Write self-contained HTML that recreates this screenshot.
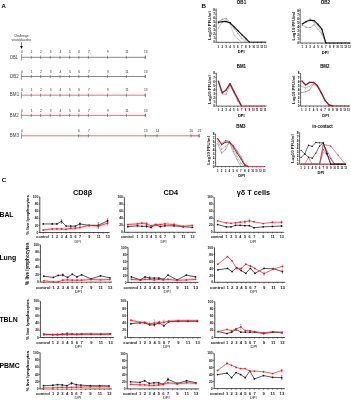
<!DOCTYPE html>
<html><head><meta charset="utf-8"><title>Figure</title>
<style>
html,body{margin:0;padding:0;background:#fff;width:351px;height:400px;overflow:hidden}
svg{display:block}
svg text{font-family:"Liberation Sans", Arial, Helvetica, sans-serif}
</style></head>
<body>
<svg width="351" height="400" viewBox="0 0 351 400">
<rect width="351" height="400" fill="#fff"/>
<text x="1.60" y="7.90" font-size="6.0" text-anchor="start" font-weight="bold" fill="#000" >A</text>
<text x="21.20" y="37.00" font-size="3.3" text-anchor="middle" font-weight="normal" fill="#333" >Challenge</text>
<text x="21.30" y="41.00" font-size="3.3" text-anchor="middle" font-weight="normal" fill="#333" >virus/placebo</text>
<line x1="21.50" y1="42.30" x2="21.50" y2="46.50" stroke="#000" stroke-width="0.5" />
<polygon points="20.2,46 22.8,46 21.5,49" fill="#000"/>
<text x="9.80" y="58.80" font-size="4.7" text-anchor="start" font-weight="normal" fill="#3a3a3a" textLength="8.0" lengthAdjust="spacingAndGlyphs">OB1</text>
<line x1="21.40" y1="57.30" x2="145.30" y2="57.30" stroke="#6a6a6a" stroke-width="0.8" />
<line x1="21.40" y1="54.10" x2="21.40" y2="60.50" stroke="#555" stroke-width="0.6" />
<text x="21.80" y="53.40" font-size="3.2" text-anchor="middle" font-weight="normal" fill="#222" >0</text>
<line x1="31.30" y1="55.70" x2="31.30" y2="58.90" stroke="#555" stroke-width="0.6" />
<text x="31.70" y="53.40" font-size="3.2" text-anchor="middle" font-weight="normal" fill="#222" >1</text>
<line x1="40.60" y1="55.70" x2="40.60" y2="58.90" stroke="#555" stroke-width="0.6" />
<text x="41.00" y="53.40" font-size="3.2" text-anchor="middle" font-weight="normal" fill="#222" >2</text>
<line x1="50.30" y1="55.70" x2="50.30" y2="58.90" stroke="#555" stroke-width="0.6" />
<text x="50.70" y="53.40" font-size="3.2" text-anchor="middle" font-weight="normal" fill="#222" >3</text>
<line x1="60.00" y1="55.70" x2="60.00" y2="58.90" stroke="#555" stroke-width="0.6" />
<text x="60.40" y="53.40" font-size="3.2" text-anchor="middle" font-weight="normal" fill="#222" >4</text>
<line x1="69.60" y1="55.70" x2="69.60" y2="58.90" stroke="#555" stroke-width="0.6" />
<text x="70.00" y="53.40" font-size="3.2" text-anchor="middle" font-weight="normal" fill="#222" >5</text>
<line x1="78.80" y1="55.70" x2="78.80" y2="58.90" stroke="#555" stroke-width="0.6" />
<text x="79.20" y="53.40" font-size="3.2" text-anchor="middle" font-weight="normal" fill="#222" >6</text>
<line x1="88.40" y1="55.70" x2="88.40" y2="58.90" stroke="#555" stroke-width="0.6" />
<text x="88.80" y="53.40" font-size="3.2" text-anchor="middle" font-weight="normal" fill="#222" >7</text>
<line x1="107.50" y1="55.70" x2="107.50" y2="58.90" stroke="#555" stroke-width="0.6" />
<text x="107.90" y="53.40" font-size="3.2" text-anchor="middle" font-weight="normal" fill="#222" >9</text>
<line x1="126.40" y1="55.70" x2="126.40" y2="58.90" stroke="#555" stroke-width="0.6" />
<text x="126.80" y="53.40" font-size="3.2" text-anchor="middle" font-weight="normal" fill="#222" >11</text>
<line x1="145.30" y1="55.70" x2="145.30" y2="58.90" stroke="#555" stroke-width="0.6" />
<text x="145.70" y="53.40" font-size="3.2" text-anchor="middle" font-weight="normal" fill="#222" >13</text>
<line x1="145.30" y1="55.70" x2="145.30" y2="58.90" stroke="#555" stroke-width="0.6" />
<text x="9.80" y="78.10" font-size="4.7" text-anchor="start" font-weight="normal" fill="#3a3a3a" textLength="8.9" lengthAdjust="spacingAndGlyphs">OB2</text>
<line x1="21.40" y1="76.50" x2="145.30" y2="76.50" stroke="#6a6a6a" stroke-width="0.8" />
<line x1="21.40" y1="73.30" x2="21.40" y2="79.70" stroke="#555" stroke-width="0.6" />
<text x="21.80" y="72.60" font-size="3.2" text-anchor="middle" font-weight="normal" fill="#222" >0</text>
<line x1="31.30" y1="74.90" x2="31.30" y2="78.10" stroke="#555" stroke-width="0.6" />
<text x="31.70" y="72.60" font-size="3.2" text-anchor="middle" font-weight="normal" fill="#222" >1</text>
<line x1="40.60" y1="74.90" x2="40.60" y2="78.10" stroke="#555" stroke-width="0.6" />
<text x="41.00" y="72.60" font-size="3.2" text-anchor="middle" font-weight="normal" fill="#222" >2</text>
<line x1="50.30" y1="74.90" x2="50.30" y2="78.10" stroke="#555" stroke-width="0.6" />
<text x="50.70" y="72.60" font-size="3.2" text-anchor="middle" font-weight="normal" fill="#222" >3</text>
<line x1="60.00" y1="74.90" x2="60.00" y2="78.10" stroke="#555" stroke-width="0.6" />
<text x="60.40" y="72.60" font-size="3.2" text-anchor="middle" font-weight="normal" fill="#222" >4</text>
<line x1="69.60" y1="74.90" x2="69.60" y2="78.10" stroke="#555" stroke-width="0.6" />
<text x="70.00" y="72.60" font-size="3.2" text-anchor="middle" font-weight="normal" fill="#222" >5</text>
<line x1="78.80" y1="74.90" x2="78.80" y2="78.10" stroke="#555" stroke-width="0.6" />
<text x="79.20" y="72.60" font-size="3.2" text-anchor="middle" font-weight="normal" fill="#222" >6</text>
<line x1="88.40" y1="74.90" x2="88.40" y2="78.10" stroke="#555" stroke-width="0.6" />
<text x="88.80" y="72.60" font-size="3.2" text-anchor="middle" font-weight="normal" fill="#222" >7</text>
<line x1="107.50" y1="74.90" x2="107.50" y2="78.10" stroke="#555" stroke-width="0.6" />
<text x="107.90" y="72.60" font-size="3.2" text-anchor="middle" font-weight="normal" fill="#222" >9</text>
<line x1="126.40" y1="74.90" x2="126.40" y2="78.10" stroke="#555" stroke-width="0.6" />
<text x="126.80" y="72.60" font-size="3.2" text-anchor="middle" font-weight="normal" fill="#222" >11</text>
<line x1="145.30" y1="74.90" x2="145.30" y2="78.10" stroke="#555" stroke-width="0.6" />
<text x="145.70" y="72.60" font-size="3.2" text-anchor="middle" font-weight="normal" fill="#222" >13</text>
<line x1="145.30" y1="74.90" x2="145.30" y2="78.10" stroke="#555" stroke-width="0.6" />
<text x="9.80" y="96.00" font-size="4.7" text-anchor="start" font-weight="normal" fill="#3a3a3a" textLength="9.4" lengthAdjust="spacingAndGlyphs">BM1</text>
<rect x="21.4" y="91.60" width="123.9" height="3.0" fill="#fef6f7"/>
<line x1="21.40" y1="95.20" x2="145.30" y2="95.20" stroke="#dc5566" stroke-width="0.8" />
<line x1="21.40" y1="92.00" x2="21.40" y2="98.40" stroke="#555" stroke-width="0.6" />
<text x="21.80" y="91.30" font-size="3.2" text-anchor="middle" font-weight="normal" fill="#222" >0</text>
<line x1="31.30" y1="93.60" x2="31.30" y2="96.80" stroke="#555" stroke-width="0.6" />
<text x="31.70" y="91.30" font-size="3.2" text-anchor="middle" font-weight="normal" fill="#222" >1</text>
<line x1="40.60" y1="93.60" x2="40.60" y2="96.80" stroke="#555" stroke-width="0.6" />
<text x="41.00" y="91.30" font-size="3.2" text-anchor="middle" font-weight="normal" fill="#222" >2</text>
<line x1="50.30" y1="93.60" x2="50.30" y2="96.80" stroke="#555" stroke-width="0.6" />
<text x="50.70" y="91.30" font-size="3.2" text-anchor="middle" font-weight="normal" fill="#222" >3</text>
<line x1="60.00" y1="93.60" x2="60.00" y2="96.80" stroke="#555" stroke-width="0.6" />
<text x="60.40" y="91.30" font-size="3.2" text-anchor="middle" font-weight="normal" fill="#222" >4</text>
<line x1="69.60" y1="93.60" x2="69.60" y2="96.80" stroke="#555" stroke-width="0.6" />
<text x="70.00" y="91.30" font-size="3.2" text-anchor="middle" font-weight="normal" fill="#222" >5</text>
<line x1="78.80" y1="93.60" x2="78.80" y2="96.80" stroke="#555" stroke-width="0.6" />
<text x="79.20" y="91.30" font-size="3.2" text-anchor="middle" font-weight="normal" fill="#222" >6</text>
<line x1="88.40" y1="93.60" x2="88.40" y2="96.80" stroke="#555" stroke-width="0.6" />
<text x="88.80" y="91.30" font-size="3.2" text-anchor="middle" font-weight="normal" fill="#222" >7</text>
<line x1="107.50" y1="93.60" x2="107.50" y2="96.80" stroke="#555" stroke-width="0.6" />
<text x="107.90" y="91.30" font-size="3.2" text-anchor="middle" font-weight="normal" fill="#222" >9</text>
<line x1="126.40" y1="93.60" x2="126.40" y2="96.80" stroke="#555" stroke-width="0.6" />
<text x="126.80" y="91.30" font-size="3.2" text-anchor="middle" font-weight="normal" fill="#222" >11</text>
<line x1="145.30" y1="93.60" x2="145.30" y2="96.80" stroke="#555" stroke-width="0.6" />
<text x="145.70" y="91.30" font-size="3.2" text-anchor="middle" font-weight="normal" fill="#222" >13</text>
<line x1="145.30" y1="93.60" x2="145.30" y2="96.80" stroke="#555" stroke-width="0.6" />
<text x="9.80" y="117.40" font-size="4.7" text-anchor="start" font-weight="normal" fill="#3a3a3a" textLength="8.9" lengthAdjust="spacingAndGlyphs">BM2</text>
<rect x="21.4" y="111.80" width="123.9" height="3.0" fill="#fef6f7"/>
<line x1="21.40" y1="115.40" x2="145.30" y2="115.40" stroke="#dc5566" stroke-width="0.8" />
<line x1="21.40" y1="112.20" x2="21.40" y2="118.60" stroke="#555" stroke-width="0.6" />
<text x="21.80" y="111.50" font-size="3.2" text-anchor="middle" font-weight="normal" fill="#222" >0</text>
<line x1="31.30" y1="113.80" x2="31.30" y2="117.00" stroke="#555" stroke-width="0.6" />
<text x="31.70" y="111.50" font-size="3.2" text-anchor="middle" font-weight="normal" fill="#222" >1</text>
<line x1="40.60" y1="113.80" x2="40.60" y2="117.00" stroke="#555" stroke-width="0.6" />
<text x="41.00" y="111.50" font-size="3.2" text-anchor="middle" font-weight="normal" fill="#222" >2</text>
<line x1="50.30" y1="113.80" x2="50.30" y2="117.00" stroke="#555" stroke-width="0.6" />
<text x="50.70" y="111.50" font-size="3.2" text-anchor="middle" font-weight="normal" fill="#222" >3</text>
<line x1="60.00" y1="113.80" x2="60.00" y2="117.00" stroke="#555" stroke-width="0.6" />
<text x="60.40" y="111.50" font-size="3.2" text-anchor="middle" font-weight="normal" fill="#222" >4</text>
<line x1="69.60" y1="113.80" x2="69.60" y2="117.00" stroke="#555" stroke-width="0.6" />
<text x="70.00" y="111.50" font-size="3.2" text-anchor="middle" font-weight="normal" fill="#222" >5</text>
<line x1="78.80" y1="113.80" x2="78.80" y2="117.00" stroke="#555" stroke-width="0.6" />
<text x="79.20" y="111.50" font-size="3.2" text-anchor="middle" font-weight="normal" fill="#222" >6</text>
<line x1="88.40" y1="113.80" x2="88.40" y2="117.00" stroke="#555" stroke-width="0.6" />
<text x="88.80" y="111.50" font-size="3.2" text-anchor="middle" font-weight="normal" fill="#222" >7</text>
<line x1="107.50" y1="113.80" x2="107.50" y2="117.00" stroke="#555" stroke-width="0.6" />
<text x="107.90" y="111.50" font-size="3.2" text-anchor="middle" font-weight="normal" fill="#222" >9</text>
<line x1="126.40" y1="113.80" x2="126.40" y2="117.00" stroke="#555" stroke-width="0.6" />
<text x="126.80" y="111.50" font-size="3.2" text-anchor="middle" font-weight="normal" fill="#222" >11</text>
<line x1="145.30" y1="113.80" x2="145.30" y2="117.00" stroke="#555" stroke-width="0.6" />
<text x="145.70" y="111.50" font-size="3.2" text-anchor="middle" font-weight="normal" fill="#222" >13</text>
<line x1="145.30" y1="113.80" x2="145.30" y2="117.00" stroke="#555" stroke-width="0.6" />
<text x="9.80" y="137.10" font-size="4.7" text-anchor="start" font-weight="normal" fill="#3a3a3a" textLength="9.2" lengthAdjust="spacingAndGlyphs">BM3</text>
<rect x="21.4" y="132.20" width="177.9" height="3.0" fill="#fef6f7"/>
<line x1="21.40" y1="135.80" x2="199.30" y2="135.80" stroke="#dc5566" stroke-width="0.8" />
<line x1="78.60" y1="135.80" x2="88.40" y2="135.80" stroke="#c85060" stroke-width="0.9" stroke-dasharray="0.8 0.8"/>
<line x1="145.30" y1="135.80" x2="157.20" y2="135.80" stroke="#c85060" stroke-width="0.9" stroke-dasharray="0.8 0.8"/>
<line x1="190.90" y1="135.80" x2="199.00" y2="135.80" stroke="#c85060" stroke-width="0.9" stroke-dasharray="0.8 0.8"/>
<line x1="21.60" y1="132.60" x2="21.60" y2="139.00" stroke="#555" stroke-width="0.6" />
<text x="22.00" y="131.90" font-size="3.2" text-anchor="middle" font-weight="normal" fill="#222" >0</text>
<line x1="78.60" y1="134.20" x2="78.60" y2="137.40" stroke="#555" stroke-width="0.6" />
<text x="79.00" y="131.90" font-size="3.2" text-anchor="middle" font-weight="normal" fill="#222" >6</text>
<line x1="88.40" y1="134.20" x2="88.40" y2="137.40" stroke="#555" stroke-width="0.6" />
<text x="88.80" y="131.90" font-size="3.2" text-anchor="middle" font-weight="normal" fill="#222" >7</text>
<line x1="145.30" y1="134.20" x2="145.30" y2="137.40" stroke="#555" stroke-width="0.6" />
<text x="145.70" y="131.90" font-size="3.2" text-anchor="middle" font-weight="normal" fill="#222" >13</text>
<line x1="157.20" y1="134.20" x2="157.20" y2="137.40" stroke="#555" stroke-width="0.6" />
<text x="157.60" y="131.90" font-size="3.2" text-anchor="middle" font-weight="normal" fill="#222" >14</text>
<line x1="190.90" y1="134.20" x2="190.90" y2="137.40" stroke="#555" stroke-width="0.6" />
<text x="191.30" y="131.90" font-size="3.2" text-anchor="middle" font-weight="normal" fill="#222" >20</text>
<line x1="199.00" y1="134.20" x2="199.00" y2="137.40" stroke="#555" stroke-width="0.6" />
<text x="199.40" y="131.90" font-size="3.2" text-anchor="middle" font-weight="normal" fill="#222" >21</text>
<line x1="199.30" y1="134.20" x2="199.30" y2="137.40" stroke="#555" stroke-width="0.6" />
<text x="201.50" y="8.40" font-size="6.2" text-anchor="start" font-weight="bold" fill="#000" >B</text>
<text x="241.50" y="3.80" font-size="5.0" text-anchor="middle" font-weight="bold" fill="#000" textLength="9.3" lengthAdjust="spacingAndGlyphs">OB1</text>
<text transform="translate(210.80,25.70) rotate(-90)" font-size="4.3" font-weight="bold" text-anchor="middle" fill="#111">Log10 PFU/ml</text>
<line x1="216.20" y1="8.50" x2="216.20" y2="42.30" stroke="#000" stroke-width="0.6" />
<line x1="216.20" y1="42.30" x2="266.40" y2="42.30" stroke="#000" stroke-width="0.6" />
<line x1="215.20" y1="42.30" x2="216.20" y2="42.30" stroke="#000" stroke-width="0.5" />
<text x="215.00" y="43.40" font-size="3.1" text-anchor="end" font-weight="bold" fill="#000" >0</text>
<line x1="215.20" y1="38.28" x2="216.20" y2="38.28" stroke="#000" stroke-width="0.5" />
<text x="215.00" y="39.38" font-size="3.1" text-anchor="end" font-weight="bold" fill="#000" >1</text>
<line x1="215.20" y1="34.26" x2="216.20" y2="34.26" stroke="#000" stroke-width="0.5" />
<text x="215.00" y="35.36" font-size="3.1" text-anchor="end" font-weight="bold" fill="#000" >2</text>
<line x1="215.20" y1="30.24" x2="216.20" y2="30.24" stroke="#000" stroke-width="0.5" />
<text x="215.00" y="31.34" font-size="3.1" text-anchor="end" font-weight="bold" fill="#000" >3</text>
<line x1="215.20" y1="26.22" x2="216.20" y2="26.22" stroke="#000" stroke-width="0.5" />
<text x="215.00" y="27.32" font-size="3.1" text-anchor="end" font-weight="bold" fill="#000" >4</text>
<line x1="215.20" y1="22.20" x2="216.20" y2="22.20" stroke="#000" stroke-width="0.5" />
<text x="215.00" y="23.30" font-size="3.1" text-anchor="end" font-weight="bold" fill="#000" >5</text>
<line x1="215.20" y1="18.18" x2="216.20" y2="18.18" stroke="#000" stroke-width="0.5" />
<text x="215.00" y="19.28" font-size="3.1" text-anchor="end" font-weight="bold" fill="#000" >6</text>
<line x1="215.20" y1="14.16" x2="216.20" y2="14.16" stroke="#000" stroke-width="0.5" />
<text x="215.00" y="15.26" font-size="3.1" text-anchor="end" font-weight="bold" fill="#000" >7</text>
<line x1="215.20" y1="10.14" x2="216.20" y2="10.14" stroke="#000" stroke-width="0.5" />
<text x="215.00" y="11.24" font-size="3.1" text-anchor="end" font-weight="bold" fill="#000" >8</text>
<line x1="218.30" y1="42.30" x2="218.30" y2="43.30" stroke="#000" stroke-width="0.5" />
<text x="218.30" y="47.50" font-size="2.9" text-anchor="middle" font-weight="bold" fill="#111" >1</text>
<line x1="222.22" y1="42.30" x2="222.22" y2="43.30" stroke="#000" stroke-width="0.5" />
<text x="222.22" y="47.50" font-size="2.9" text-anchor="middle" font-weight="bold" fill="#111" >2</text>
<line x1="226.14" y1="42.30" x2="226.14" y2="43.30" stroke="#000" stroke-width="0.5" />
<text x="226.14" y="47.50" font-size="2.9" text-anchor="middle" font-weight="bold" fill="#111" >3</text>
<line x1="230.06" y1="42.30" x2="230.06" y2="43.30" stroke="#000" stroke-width="0.5" />
<text x="230.06" y="47.50" font-size="2.9" text-anchor="middle" font-weight="bold" fill="#111" >4</text>
<line x1="233.98" y1="42.30" x2="233.98" y2="43.30" stroke="#000" stroke-width="0.5" />
<text x="233.98" y="47.50" font-size="2.9" text-anchor="middle" font-weight="bold" fill="#111" >5</text>
<line x1="237.90" y1="42.30" x2="237.90" y2="43.30" stroke="#000" stroke-width="0.5" />
<text x="237.90" y="47.50" font-size="2.9" text-anchor="middle" font-weight="bold" fill="#111" >6</text>
<line x1="241.82" y1="42.30" x2="241.82" y2="43.30" stroke="#000" stroke-width="0.5" />
<text x="241.82" y="47.50" font-size="2.9" text-anchor="middle" font-weight="bold" fill="#111" >7</text>
<line x1="245.74" y1="42.30" x2="245.74" y2="43.30" stroke="#000" stroke-width="0.5" />
<text x="245.74" y="47.50" font-size="2.9" text-anchor="middle" font-weight="bold" fill="#111" >8</text>
<line x1="249.66" y1="42.30" x2="249.66" y2="43.30" stroke="#000" stroke-width="0.5" />
<text x="249.66" y="47.50" font-size="2.9" text-anchor="middle" font-weight="bold" fill="#111" >9</text>
<line x1="253.58" y1="42.30" x2="253.58" y2="43.30" stroke="#000" stroke-width="0.5" />
<text x="253.58" y="47.50" font-size="2.7" text-anchor="middle" font-weight="bold" fill="#111" letter-spacing="-0.25">10</text>
<line x1="257.50" y1="42.30" x2="257.50" y2="43.30" stroke="#000" stroke-width="0.5" />
<text x="257.50" y="47.50" font-size="2.7" text-anchor="middle" font-weight="bold" fill="#111" letter-spacing="-0.25">11</text>
<line x1="261.42" y1="42.30" x2="261.42" y2="43.30" stroke="#000" stroke-width="0.5" />
<text x="261.42" y="47.50" font-size="2.7" text-anchor="middle" font-weight="bold" fill="#111" letter-spacing="-0.25">12</text>
<line x1="265.34" y1="42.30" x2="265.34" y2="43.30" stroke="#000" stroke-width="0.5" />
<text x="265.34" y="47.50" font-size="2.7" text-anchor="middle" font-weight="bold" fill="#111" letter-spacing="-0.25">13</text>
<text x="241.20" y="52.90" font-size="4.0" text-anchor="middle" font-weight="bold" fill="#000" >DPI</text>
<polyline points="218.30,28.23 222.22,22.20 226.14,19.79 230.06,24.21 233.98,34.66 237.90,39.08 241.82,42.30" fill="none" stroke="#9a9a9a" stroke-width="0.5" stroke-linejoin="round" />
<line x1="241.82" y1="42.30" x2="245.74" y2="42.30" stroke="#9a9a9a" stroke-width="0.6" />
<line x1="245.74" y1="42.30" x2="249.66" y2="42.30" stroke="#9a9a9a" stroke-width="0.6" />
<line x1="249.66" y1="42.30" x2="253.58" y2="42.30" stroke="#9a9a9a" stroke-width="0.6" />
<line x1="253.58" y1="42.30" x2="257.50" y2="42.30" stroke="#9a9a9a" stroke-width="0.6" />
<line x1="257.50" y1="42.30" x2="261.42" y2="42.30" stroke="#9a9a9a" stroke-width="0.6" />
<line x1="261.42" y1="42.30" x2="265.34" y2="42.30" stroke="#9a9a9a" stroke-width="0.6" />
<circle cx="218.30" cy="28.23" r="0.5" fill="#9a9a9a"/>
<circle cx="222.22" cy="22.20" r="0.5" fill="#9a9a9a"/>
<circle cx="226.14" cy="19.79" r="0.5" fill="#9a9a9a"/>
<circle cx="230.06" cy="24.21" r="0.5" fill="#9a9a9a"/>
<circle cx="233.98" cy="34.66" r="0.5" fill="#9a9a9a"/>
<circle cx="237.90" cy="39.08" r="0.5" fill="#9a9a9a"/>
<circle cx="241.82" cy="42.30" r="0.4" fill="#9a9a9a"/>
<circle cx="245.74" cy="42.30" r="0.4" fill="#9a9a9a"/>
<circle cx="249.66" cy="42.30" r="0.4" fill="#9a9a9a"/>
<circle cx="253.58" cy="42.30" r="0.4" fill="#9a9a9a"/>
<circle cx="257.50" cy="42.30" r="0.4" fill="#9a9a9a"/>
<circle cx="261.42" cy="42.30" r="0.4" fill="#9a9a9a"/>
<circle cx="265.34" cy="42.30" r="0.4" fill="#9a9a9a"/>
<polyline points="218.30,23.81 222.22,18.98 226.14,18.18 230.06,22.60 233.98,27.83 237.90,33.46 241.82,38.28 245.74,42.30" fill="none" stroke="#777" stroke-width="0.5" stroke-linejoin="round" />
<line x1="245.74" y1="42.30" x2="249.66" y2="42.30" stroke="#777" stroke-width="0.6" />
<line x1="249.66" y1="42.30" x2="253.58" y2="42.30" stroke="#777" stroke-width="0.6" />
<line x1="253.58" y1="42.30" x2="257.50" y2="42.30" stroke="#777" stroke-width="0.6" />
<line x1="257.50" y1="42.30" x2="261.42" y2="42.30" stroke="#777" stroke-width="0.6" />
<line x1="261.42" y1="42.30" x2="265.34" y2="42.30" stroke="#777" stroke-width="0.6" />
<circle cx="218.30" cy="23.81" r="0.5" fill="#777"/>
<circle cx="222.22" cy="18.98" r="0.5" fill="#777"/>
<circle cx="226.14" cy="18.18" r="0.5" fill="#777"/>
<circle cx="230.06" cy="22.60" r="0.5" fill="#777"/>
<circle cx="233.98" cy="27.83" r="0.5" fill="#777"/>
<circle cx="237.90" cy="33.46" r="0.5" fill="#777"/>
<circle cx="241.82" cy="38.28" r="0.5" fill="#777"/>
<circle cx="245.74" cy="42.30" r="0.4" fill="#777"/>
<circle cx="249.66" cy="42.30" r="0.4" fill="#777"/>
<circle cx="253.58" cy="42.30" r="0.4" fill="#777"/>
<circle cx="257.50" cy="42.30" r="0.4" fill="#777"/>
<circle cx="261.42" cy="42.30" r="0.4" fill="#777"/>
<circle cx="265.34" cy="42.30" r="0.4" fill="#777"/>
<polyline points="218.30,21.40 222.22,19.79 226.14,21.40 230.06,23.81 233.98,28.63 237.90,30.64 241.82,34.66 245.74,39.89 249.66,42.30" fill="none" stroke="#999" stroke-width="0.5" stroke-linejoin="round" />
<line x1="249.66" y1="42.30" x2="253.58" y2="42.30" stroke="#999" stroke-width="0.6" />
<line x1="253.58" y1="42.30" x2="257.50" y2="42.30" stroke="#999" stroke-width="0.6" />
<line x1="257.50" y1="42.30" x2="261.42" y2="42.30" stroke="#999" stroke-width="0.6" />
<line x1="261.42" y1="42.30" x2="265.34" y2="42.30" stroke="#999" stroke-width="0.6" />
<circle cx="218.30" cy="21.40" r="0.5" fill="#999"/>
<circle cx="222.22" cy="19.79" r="0.5" fill="#999"/>
<circle cx="226.14" cy="21.40" r="0.5" fill="#999"/>
<circle cx="230.06" cy="23.81" r="0.5" fill="#999"/>
<circle cx="233.98" cy="28.63" r="0.5" fill="#999"/>
<circle cx="237.90" cy="30.64" r="0.5" fill="#999"/>
<circle cx="241.82" cy="34.66" r="0.5" fill="#999"/>
<circle cx="245.74" cy="39.89" r="0.5" fill="#999"/>
<circle cx="249.66" cy="42.30" r="0.4" fill="#999"/>
<circle cx="253.58" cy="42.30" r="0.4" fill="#999"/>
<circle cx="257.50" cy="42.30" r="0.4" fill="#999"/>
<circle cx="261.42" cy="42.30" r="0.4" fill="#999"/>
<circle cx="265.34" cy="42.30" r="0.4" fill="#999"/>
<polyline points="218.30,22.20 222.22,21.80 226.14,21.60 230.06,22.80 233.98,26.62 237.90,30.64 241.82,34.66 245.74,38.28 249.66,42.30" fill="none" stroke="#111" stroke-width="1.1" stroke-linejoin="round" />
<line x1="249.66" y1="42.30" x2="253.58" y2="42.30" stroke="#111" stroke-width="0.6" />
<line x1="253.58" y1="42.30" x2="257.50" y2="42.30" stroke="#111" stroke-width="0.6" />
<line x1="257.50" y1="42.30" x2="261.42" y2="42.30" stroke="#111" stroke-width="0.6" />
<line x1="261.42" y1="42.30" x2="265.34" y2="42.30" stroke="#111" stroke-width="0.6" />
<circle cx="218.30" cy="22.20" r="0.7" fill="#111"/>
<circle cx="222.22" cy="21.80" r="0.7" fill="#111"/>
<circle cx="226.14" cy="21.60" r="0.7" fill="#111"/>
<circle cx="230.06" cy="22.80" r="0.7" fill="#111"/>
<circle cx="233.98" cy="26.62" r="0.7" fill="#111"/>
<circle cx="237.90" cy="30.64" r="0.7" fill="#111"/>
<circle cx="241.82" cy="34.66" r="0.7" fill="#111"/>
<circle cx="245.74" cy="38.28" r="0.7" fill="#111"/>
<circle cx="249.66" cy="42.30" r="0.5599999999999999" fill="#111"/>
<circle cx="253.58" cy="42.30" r="0.5599999999999999" fill="#111"/>
<circle cx="257.50" cy="42.30" r="0.5599999999999999" fill="#111"/>
<circle cx="261.42" cy="42.30" r="0.5599999999999999" fill="#111"/>
<circle cx="265.34" cy="42.30" r="0.5599999999999999" fill="#111"/>
<text x="325.30" y="3.80" font-size="5.0" text-anchor="middle" font-weight="bold" fill="#000" textLength="9.3" lengthAdjust="spacingAndGlyphs">OB2</text>
<text transform="translate(294.80,26.05) rotate(-90)" font-size="4.3" font-weight="bold" text-anchor="middle" fill="#111">Log10 PFU/ml</text>
<line x1="300.20" y1="8.50" x2="300.20" y2="43.00" stroke="#000" stroke-width="0.6" />
<line x1="300.20" y1="43.00" x2="351.50" y2="43.00" stroke="#000" stroke-width="0.6" />
<line x1="299.20" y1="43.00" x2="300.20" y2="43.00" stroke="#000" stroke-width="0.5" />
<text x="299.00" y="44.10" font-size="3.1" text-anchor="end" font-weight="bold" fill="#000" >0</text>
<line x1="299.20" y1="38.94" x2="300.20" y2="38.94" stroke="#000" stroke-width="0.5" />
<text x="299.00" y="40.04" font-size="3.1" text-anchor="end" font-weight="bold" fill="#000" >1</text>
<line x1="299.20" y1="34.88" x2="300.20" y2="34.88" stroke="#000" stroke-width="0.5" />
<text x="299.00" y="35.98" font-size="3.1" text-anchor="end" font-weight="bold" fill="#000" >2</text>
<line x1="299.20" y1="30.82" x2="300.20" y2="30.82" stroke="#000" stroke-width="0.5" />
<text x="299.00" y="31.92" font-size="3.1" text-anchor="end" font-weight="bold" fill="#000" >3</text>
<line x1="299.20" y1="26.76" x2="300.20" y2="26.76" stroke="#000" stroke-width="0.5" />
<text x="299.00" y="27.86" font-size="3.1" text-anchor="end" font-weight="bold" fill="#000" >4</text>
<line x1="299.20" y1="22.70" x2="300.20" y2="22.70" stroke="#000" stroke-width="0.5" />
<text x="299.00" y="23.80" font-size="3.1" text-anchor="end" font-weight="bold" fill="#000" >5</text>
<line x1="299.20" y1="18.64" x2="300.20" y2="18.64" stroke="#000" stroke-width="0.5" />
<text x="299.00" y="19.74" font-size="3.1" text-anchor="end" font-weight="bold" fill="#000" >6</text>
<line x1="299.20" y1="14.58" x2="300.20" y2="14.58" stroke="#000" stroke-width="0.5" />
<text x="299.00" y="15.68" font-size="3.1" text-anchor="end" font-weight="bold" fill="#000" >7</text>
<line x1="299.20" y1="10.52" x2="300.20" y2="10.52" stroke="#000" stroke-width="0.5" />
<text x="299.00" y="11.62" font-size="3.1" text-anchor="end" font-weight="bold" fill="#000" >8</text>
<line x1="302.30" y1="43.00" x2="302.30" y2="44.00" stroke="#000" stroke-width="0.5" />
<text x="302.30" y="48.20" font-size="2.9" text-anchor="middle" font-weight="bold" fill="#111" >1</text>
<line x1="306.22" y1="43.00" x2="306.22" y2="44.00" stroke="#000" stroke-width="0.5" />
<text x="306.22" y="48.20" font-size="2.9" text-anchor="middle" font-weight="bold" fill="#111" >2</text>
<line x1="310.14" y1="43.00" x2="310.14" y2="44.00" stroke="#000" stroke-width="0.5" />
<text x="310.14" y="48.20" font-size="2.9" text-anchor="middle" font-weight="bold" fill="#111" >3</text>
<line x1="314.06" y1="43.00" x2="314.06" y2="44.00" stroke="#000" stroke-width="0.5" />
<text x="314.06" y="48.20" font-size="2.9" text-anchor="middle" font-weight="bold" fill="#111" >4</text>
<line x1="317.98" y1="43.00" x2="317.98" y2="44.00" stroke="#000" stroke-width="0.5" />
<text x="317.98" y="48.20" font-size="2.9" text-anchor="middle" font-weight="bold" fill="#111" >5</text>
<line x1="321.90" y1="43.00" x2="321.90" y2="44.00" stroke="#000" stroke-width="0.5" />
<text x="321.90" y="48.20" font-size="2.9" text-anchor="middle" font-weight="bold" fill="#111" >6</text>
<line x1="325.82" y1="43.00" x2="325.82" y2="44.00" stroke="#000" stroke-width="0.5" />
<text x="325.82" y="48.20" font-size="2.9" text-anchor="middle" font-weight="bold" fill="#111" >7</text>
<line x1="329.74" y1="43.00" x2="329.74" y2="44.00" stroke="#000" stroke-width="0.5" />
<text x="329.74" y="48.20" font-size="2.9" text-anchor="middle" font-weight="bold" fill="#111" >8</text>
<line x1="333.66" y1="43.00" x2="333.66" y2="44.00" stroke="#000" stroke-width="0.5" />
<text x="333.66" y="48.20" font-size="2.9" text-anchor="middle" font-weight="bold" fill="#111" >9</text>
<line x1="337.58" y1="43.00" x2="337.58" y2="44.00" stroke="#000" stroke-width="0.5" />
<text x="337.58" y="48.20" font-size="2.7" text-anchor="middle" font-weight="bold" fill="#111" letter-spacing="-0.25">10</text>
<line x1="341.50" y1="43.00" x2="341.50" y2="44.00" stroke="#000" stroke-width="0.5" />
<text x="341.50" y="48.20" font-size="2.7" text-anchor="middle" font-weight="bold" fill="#111" letter-spacing="-0.25">11</text>
<line x1="345.42" y1="43.00" x2="345.42" y2="44.00" stroke="#000" stroke-width="0.5" />
<text x="345.42" y="48.20" font-size="2.7" text-anchor="middle" font-weight="bold" fill="#111" letter-spacing="-0.25">12</text>
<line x1="349.34" y1="43.00" x2="349.34" y2="44.00" stroke="#000" stroke-width="0.5" />
<text x="349.34" y="48.20" font-size="2.7" text-anchor="middle" font-weight="bold" fill="#111" letter-spacing="-0.25">13</text>
<text x="325.20" y="53.60" font-size="4.0" text-anchor="middle" font-weight="bold" fill="#000" >DPI</text>
<polyline points="302.30,23.51 306.22,22.29 310.14,18.64 314.06,22.70 317.98,25.95 321.90,32.44 325.82,43.00" fill="none" stroke="#999" stroke-width="0.5" stroke-linejoin="round" />
<line x1="325.82" y1="43.00" x2="329.74" y2="43.00" stroke="#999" stroke-width="0.6" />
<line x1="329.74" y1="43.00" x2="333.66" y2="43.00" stroke="#999" stroke-width="0.6" />
<line x1="333.66" y1="43.00" x2="337.58" y2="43.00" stroke="#999" stroke-width="0.6" />
<line x1="337.58" y1="43.00" x2="341.50" y2="43.00" stroke="#999" stroke-width="0.6" />
<line x1="341.50" y1="43.00" x2="345.42" y2="43.00" stroke="#999" stroke-width="0.6" />
<line x1="345.42" y1="43.00" x2="349.34" y2="43.00" stroke="#999" stroke-width="0.6" />
<circle cx="302.30" cy="23.51" r="0.5" fill="#999"/>
<circle cx="306.22" cy="22.29" r="0.5" fill="#999"/>
<circle cx="310.14" cy="18.64" r="0.5" fill="#999"/>
<circle cx="314.06" cy="22.70" r="0.5" fill="#999"/>
<circle cx="317.98" cy="25.95" r="0.5" fill="#999"/>
<circle cx="321.90" cy="32.44" r="0.5" fill="#999"/>
<circle cx="325.82" cy="43.00" r="0.4" fill="#999"/>
<circle cx="329.74" cy="43.00" r="0.4" fill="#999"/>
<circle cx="333.66" cy="43.00" r="0.4" fill="#999"/>
<circle cx="337.58" cy="43.00" r="0.4" fill="#999"/>
<circle cx="341.50" cy="43.00" r="0.4" fill="#999"/>
<circle cx="345.42" cy="43.00" r="0.4" fill="#999"/>
<circle cx="349.34" cy="43.00" r="0.4" fill="#999"/>
<polyline points="302.30,25.14 306.22,27.17 310.14,27.57 314.06,24.73 317.98,29.20 321.90,34.07 325.82,43.00" fill="none" stroke="#777" stroke-width="0.5" stroke-linejoin="round" />
<line x1="325.82" y1="43.00" x2="329.74" y2="43.00" stroke="#777" stroke-width="0.6" />
<line x1="329.74" y1="43.00" x2="333.66" y2="43.00" stroke="#777" stroke-width="0.6" />
<line x1="333.66" y1="43.00" x2="337.58" y2="43.00" stroke="#777" stroke-width="0.6" />
<line x1="337.58" y1="43.00" x2="341.50" y2="43.00" stroke="#777" stroke-width="0.6" />
<line x1="341.50" y1="43.00" x2="345.42" y2="43.00" stroke="#777" stroke-width="0.6" />
<line x1="345.42" y1="43.00" x2="349.34" y2="43.00" stroke="#777" stroke-width="0.6" />
<circle cx="302.30" cy="25.14" r="0.5" fill="#777"/>
<circle cx="306.22" cy="27.17" r="0.5" fill="#777"/>
<circle cx="310.14" cy="27.57" r="0.5" fill="#777"/>
<circle cx="314.06" cy="24.73" r="0.5" fill="#777"/>
<circle cx="317.98" cy="29.20" r="0.5" fill="#777"/>
<circle cx="321.90" cy="34.07" r="0.5" fill="#777"/>
<circle cx="325.82" cy="43.00" r="0.4" fill="#777"/>
<circle cx="329.74" cy="43.00" r="0.4" fill="#777"/>
<circle cx="333.66" cy="43.00" r="0.4" fill="#777"/>
<circle cx="337.58" cy="43.00" r="0.4" fill="#777"/>
<circle cx="341.50" cy="43.00" r="0.4" fill="#777"/>
<circle cx="345.42" cy="43.00" r="0.4" fill="#777"/>
<circle cx="349.34" cy="43.00" r="0.4" fill="#777"/>
<polyline points="302.30,23.92 306.22,21.48 310.14,20.26 314.06,20.67 317.98,24.32 321.90,29.20 325.82,43.00" fill="none" stroke="#111" stroke-width="1.1" stroke-linejoin="round" />
<line x1="325.82" y1="43.00" x2="329.74" y2="43.00" stroke="#111" stroke-width="0.6" />
<line x1="329.74" y1="43.00" x2="333.66" y2="43.00" stroke="#111" stroke-width="0.6" />
<line x1="333.66" y1="43.00" x2="337.58" y2="43.00" stroke="#111" stroke-width="0.6" />
<line x1="337.58" y1="43.00" x2="341.50" y2="43.00" stroke="#111" stroke-width="0.6" />
<line x1="341.50" y1="43.00" x2="345.42" y2="43.00" stroke="#111" stroke-width="0.6" />
<line x1="345.42" y1="43.00" x2="349.34" y2="43.00" stroke="#111" stroke-width="0.6" />
<circle cx="302.30" cy="23.92" r="0.7" fill="#111"/>
<circle cx="306.22" cy="21.48" r="0.7" fill="#111"/>
<circle cx="310.14" cy="20.26" r="0.7" fill="#111"/>
<circle cx="314.06" cy="20.67" r="0.7" fill="#111"/>
<circle cx="317.98" cy="24.32" r="0.7" fill="#111"/>
<circle cx="321.90" cy="29.20" r="0.7" fill="#111"/>
<circle cx="325.82" cy="43.00" r="0.5599999999999999" fill="#111"/>
<circle cx="329.74" cy="43.00" r="0.5599999999999999" fill="#111"/>
<circle cx="333.66" cy="43.00" r="0.5599999999999999" fill="#111"/>
<circle cx="337.58" cy="43.00" r="0.5599999999999999" fill="#111"/>
<circle cx="341.50" cy="43.00" r="0.5599999999999999" fill="#111"/>
<circle cx="345.42" cy="43.00" r="0.5599999999999999" fill="#111"/>
<circle cx="349.34" cy="43.00" r="0.5599999999999999" fill="#111"/>
<text x="241.40" y="67.80" font-size="5.0" text-anchor="middle" font-weight="bold" fill="#000" textLength="9.3" lengthAdjust="spacingAndGlyphs">BM1</text>
<text transform="translate(210.90,89.75) rotate(-90)" font-size="4.3" font-weight="bold" text-anchor="middle" fill="#111">Log10 PFU/ml</text>
<line x1="216.30" y1="72.80" x2="216.30" y2="106.10" stroke="#000" stroke-width="0.6" />
<line x1="216.30" y1="106.10" x2="266.40" y2="106.10" stroke="#000" stroke-width="0.6" />
<line x1="215.30" y1="106.10" x2="216.30" y2="106.10" stroke="#000" stroke-width="0.5" />
<text x="215.10" y="107.20" font-size="3.1" text-anchor="end" font-weight="bold" fill="#000" >0</text>
<line x1="215.30" y1="102.01" x2="216.30" y2="102.01" stroke="#000" stroke-width="0.5" />
<text x="215.10" y="103.11" font-size="3.1" text-anchor="end" font-weight="bold" fill="#000" >1</text>
<line x1="215.30" y1="97.92" x2="216.30" y2="97.92" stroke="#000" stroke-width="0.5" />
<text x="215.10" y="99.02" font-size="3.1" text-anchor="end" font-weight="bold" fill="#000" >2</text>
<line x1="215.30" y1="93.83" x2="216.30" y2="93.83" stroke="#000" stroke-width="0.5" />
<text x="215.10" y="94.93" font-size="3.1" text-anchor="end" font-weight="bold" fill="#000" >3</text>
<line x1="215.30" y1="89.74" x2="216.30" y2="89.74" stroke="#000" stroke-width="0.5" />
<text x="215.10" y="90.84" font-size="3.1" text-anchor="end" font-weight="bold" fill="#000" >4</text>
<line x1="215.30" y1="85.65" x2="216.30" y2="85.65" stroke="#000" stroke-width="0.5" />
<text x="215.10" y="86.75" font-size="3.1" text-anchor="end" font-weight="bold" fill="#000" >5</text>
<line x1="215.30" y1="81.56" x2="216.30" y2="81.56" stroke="#000" stroke-width="0.5" />
<text x="215.10" y="82.66" font-size="3.1" text-anchor="end" font-weight="bold" fill="#000" >6</text>
<line x1="215.30" y1="77.47" x2="216.30" y2="77.47" stroke="#000" stroke-width="0.5" />
<text x="215.10" y="78.57" font-size="3.1" text-anchor="end" font-weight="bold" fill="#000" >7</text>
<line x1="215.30" y1="73.38" x2="216.30" y2="73.38" stroke="#000" stroke-width="0.5" />
<text x="215.10" y="74.48" font-size="3.1" text-anchor="end" font-weight="bold" fill="#000" >8</text>
<line x1="218.40" y1="106.10" x2="218.40" y2="107.10" stroke="#000" stroke-width="0.5" />
<text x="218.40" y="111.30" font-size="2.9" text-anchor="middle" font-weight="bold" fill="#111" >1</text>
<line x1="222.27" y1="106.10" x2="222.27" y2="107.10" stroke="#000" stroke-width="0.5" />
<text x="222.27" y="111.30" font-size="2.9" text-anchor="middle" font-weight="bold" fill="#111" >2</text>
<line x1="226.14" y1="106.10" x2="226.14" y2="107.10" stroke="#000" stroke-width="0.5" />
<text x="226.14" y="111.30" font-size="2.9" text-anchor="middle" font-weight="bold" fill="#111" >3</text>
<line x1="230.01" y1="106.10" x2="230.01" y2="107.10" stroke="#000" stroke-width="0.5" />
<text x="230.01" y="111.30" font-size="2.9" text-anchor="middle" font-weight="bold" fill="#111" >4</text>
<line x1="233.88" y1="106.10" x2="233.88" y2="107.10" stroke="#000" stroke-width="0.5" />
<text x="233.88" y="111.30" font-size="2.9" text-anchor="middle" font-weight="bold" fill="#111" >5</text>
<line x1="237.75" y1="106.10" x2="237.75" y2="107.10" stroke="#000" stroke-width="0.5" />
<text x="237.75" y="111.30" font-size="2.9" text-anchor="middle" font-weight="bold" fill="#111" >6</text>
<line x1="241.62" y1="106.10" x2="241.62" y2="107.10" stroke="#000" stroke-width="0.5" />
<text x="241.62" y="111.30" font-size="2.9" text-anchor="middle" font-weight="bold" fill="#111" >7</text>
<line x1="245.49" y1="106.10" x2="245.49" y2="107.10" stroke="#000" stroke-width="0.5" />
<text x="245.49" y="111.30" font-size="2.9" text-anchor="middle" font-weight="bold" fill="#111" >8</text>
<line x1="249.36" y1="106.10" x2="249.36" y2="107.10" stroke="#000" stroke-width="0.5" />
<text x="249.36" y="111.30" font-size="2.9" text-anchor="middle" font-weight="bold" fill="#111" >9</text>
<line x1="253.23" y1="106.10" x2="253.23" y2="107.10" stroke="#000" stroke-width="0.5" />
<text x="253.23" y="111.30" font-size="2.7" text-anchor="middle" font-weight="bold" fill="#111" letter-spacing="-0.25">10</text>
<line x1="257.10" y1="106.10" x2="257.10" y2="107.10" stroke="#000" stroke-width="0.5" />
<text x="257.10" y="111.30" font-size="2.7" text-anchor="middle" font-weight="bold" fill="#111" letter-spacing="-0.25">11</text>
<line x1="260.97" y1="106.10" x2="260.97" y2="107.10" stroke="#000" stroke-width="0.5" />
<text x="260.97" y="111.30" font-size="2.7" text-anchor="middle" font-weight="bold" fill="#111" letter-spacing="-0.25">12</text>
<line x1="264.84" y1="106.10" x2="264.84" y2="107.10" stroke="#000" stroke-width="0.5" />
<text x="264.84" y="111.30" font-size="2.7" text-anchor="middle" font-weight="bold" fill="#111" letter-spacing="-0.25">13</text>
<text x="241.30" y="116.70" font-size="4.0" text-anchor="middle" font-weight="bold" fill="#000" >DPI</text>
<polyline points="218.40,81.97 222.27,93.83 226.14,94.24 230.01,84.83 233.88,92.60 237.75,101.19 241.62,106.10" fill="none" stroke="#d05a6c" stroke-width="0.6" stroke-linejoin="round" />
<line x1="241.62" y1="106.10" x2="245.49" y2="106.10" stroke="#d8505f" stroke-width="0.6" />
<line x1="245.49" y1="106.10" x2="249.36" y2="106.10" stroke="#d8505f" stroke-width="0.6" />
<line x1="249.36" y1="106.10" x2="253.23" y2="106.10" stroke="#d8505f" stroke-width="0.6" />
<line x1="253.23" y1="106.10" x2="257.10" y2="106.10" stroke="#d8505f" stroke-width="0.6" />
<line x1="257.10" y1="106.10" x2="260.97" y2="106.10" stroke="#d8505f" stroke-width="0.6" />
<line x1="260.97" y1="106.10" x2="264.84" y2="106.10" stroke="#d8505f" stroke-width="0.6" />
<circle cx="218.40" cy="81.97" r="0.5" fill="#d05a6c"/>
<circle cx="222.27" cy="93.83" r="0.5" fill="#d05a6c"/>
<circle cx="226.14" cy="94.24" r="0.5" fill="#d05a6c"/>
<circle cx="230.01" cy="84.83" r="0.5" fill="#d05a6c"/>
<circle cx="233.88" cy="92.60" r="0.5" fill="#d05a6c"/>
<circle cx="237.75" cy="101.19" r="0.5" fill="#d05a6c"/>
<circle cx="241.62" cy="106.10" r="0.4" fill="#d05a6c"/>
<circle cx="245.49" cy="106.10" r="0.4" fill="#d05a6c"/>
<circle cx="249.36" cy="106.10" r="0.4" fill="#d05a6c"/>
<circle cx="253.23" cy="106.10" r="0.4" fill="#d05a6c"/>
<circle cx="257.10" cy="106.10" r="0.4" fill="#d05a6c"/>
<circle cx="260.97" cy="106.10" r="0.4" fill="#d05a6c"/>
<circle cx="264.84" cy="106.10" r="0.4" fill="#d05a6c"/>
<polyline points="218.40,81.15 222.27,92.81 226.14,89.94 230.01,83.60 233.88,91.38 237.75,98.74 241.62,106.10" fill="none" stroke="#8a1a30" stroke-width="1.3" stroke-linejoin="round" />
<line x1="241.62" y1="106.10" x2="245.49" y2="106.10" stroke="#d8505f" stroke-width="0.6" />
<line x1="245.49" y1="106.10" x2="249.36" y2="106.10" stroke="#d8505f" stroke-width="0.6" />
<line x1="249.36" y1="106.10" x2="253.23" y2="106.10" stroke="#d8505f" stroke-width="0.6" />
<line x1="253.23" y1="106.10" x2="257.10" y2="106.10" stroke="#d8505f" stroke-width="0.6" />
<line x1="257.10" y1="106.10" x2="260.97" y2="106.10" stroke="#d8505f" stroke-width="0.6" />
<line x1="260.97" y1="106.10" x2="264.84" y2="106.10" stroke="#d8505f" stroke-width="0.6" />
<circle cx="218.40" cy="81.15" r="0.6" fill="#8a1a30"/>
<circle cx="222.27" cy="92.81" r="0.6" fill="#8a1a30"/>
<circle cx="226.14" cy="89.94" r="0.6" fill="#8a1a30"/>
<circle cx="230.01" cy="83.60" r="0.6" fill="#8a1a30"/>
<circle cx="233.88" cy="91.38" r="0.6" fill="#8a1a30"/>
<circle cx="237.75" cy="98.74" r="0.6" fill="#8a1a30"/>
<circle cx="241.62" cy="106.10" r="0.48" fill="#8a1a30"/>
<circle cx="245.49" cy="106.10" r="0.48" fill="#8a1a30"/>
<circle cx="249.36" cy="106.10" r="0.48" fill="#8a1a30"/>
<circle cx="253.23" cy="106.10" r="0.48" fill="#8a1a30"/>
<circle cx="257.10" cy="106.10" r="0.48" fill="#8a1a30"/>
<circle cx="260.97" cy="106.10" r="0.48" fill="#8a1a30"/>
<circle cx="264.84" cy="106.10" r="0.48" fill="#8a1a30"/>
<text x="324.80" y="67.70" font-size="5.0" text-anchor="middle" font-weight="bold" fill="#000" textLength="9.3" lengthAdjust="spacingAndGlyphs">BM2</text>
<text transform="translate(295.20,89.90) rotate(-90)" font-size="4.3" font-weight="bold" text-anchor="middle" fill="#111">Log10 PFU/ml</text>
<line x1="300.60" y1="73.20" x2="300.60" y2="106.00" stroke="#000" stroke-width="0.6" />
<line x1="300.60" y1="106.00" x2="350.00" y2="106.00" stroke="#000" stroke-width="0.6" />
<line x1="299.60" y1="106.00" x2="300.60" y2="106.00" stroke="#000" stroke-width="0.5" />
<text x="299.40" y="107.10" font-size="3.1" text-anchor="end" font-weight="bold" fill="#000" >0</text>
<line x1="299.60" y1="101.92" x2="300.60" y2="101.92" stroke="#000" stroke-width="0.5" />
<text x="299.40" y="103.02" font-size="3.1" text-anchor="end" font-weight="bold" fill="#000" >1</text>
<line x1="299.60" y1="97.84" x2="300.60" y2="97.84" stroke="#000" stroke-width="0.5" />
<text x="299.40" y="98.94" font-size="3.1" text-anchor="end" font-weight="bold" fill="#000" >2</text>
<line x1="299.60" y1="93.76" x2="300.60" y2="93.76" stroke="#000" stroke-width="0.5" />
<text x="299.40" y="94.86" font-size="3.1" text-anchor="end" font-weight="bold" fill="#000" >3</text>
<line x1="299.60" y1="89.68" x2="300.60" y2="89.68" stroke="#000" stroke-width="0.5" />
<text x="299.40" y="90.78" font-size="3.1" text-anchor="end" font-weight="bold" fill="#000" >4</text>
<line x1="299.60" y1="85.60" x2="300.60" y2="85.60" stroke="#000" stroke-width="0.5" />
<text x="299.40" y="86.70" font-size="3.1" text-anchor="end" font-weight="bold" fill="#000" >5</text>
<line x1="299.60" y1="81.52" x2="300.60" y2="81.52" stroke="#000" stroke-width="0.5" />
<text x="299.40" y="82.62" font-size="3.1" text-anchor="end" font-weight="bold" fill="#000" >6</text>
<line x1="299.60" y1="77.44" x2="300.60" y2="77.44" stroke="#000" stroke-width="0.5" />
<text x="299.40" y="78.54" font-size="3.1" text-anchor="end" font-weight="bold" fill="#000" >7</text>
<line x1="299.60" y1="73.36" x2="300.60" y2="73.36" stroke="#000" stroke-width="0.5" />
<text x="299.40" y="74.46" font-size="3.1" text-anchor="end" font-weight="bold" fill="#000" >8</text>
<line x1="301.80" y1="106.00" x2="301.80" y2="107.00" stroke="#000" stroke-width="0.5" />
<text x="301.80" y="111.20" font-size="2.9" text-anchor="middle" font-weight="bold" fill="#111" >1</text>
<line x1="305.68" y1="106.00" x2="305.68" y2="107.00" stroke="#000" stroke-width="0.5" />
<text x="305.68" y="111.20" font-size="2.9" text-anchor="middle" font-weight="bold" fill="#111" >2</text>
<line x1="309.56" y1="106.00" x2="309.56" y2="107.00" stroke="#000" stroke-width="0.5" />
<text x="309.56" y="111.20" font-size="2.9" text-anchor="middle" font-weight="bold" fill="#111" >3</text>
<line x1="313.44" y1="106.00" x2="313.44" y2="107.00" stroke="#000" stroke-width="0.5" />
<text x="313.44" y="111.20" font-size="2.9" text-anchor="middle" font-weight="bold" fill="#111" >4</text>
<line x1="317.32" y1="106.00" x2="317.32" y2="107.00" stroke="#000" stroke-width="0.5" />
<text x="317.32" y="111.20" font-size="2.9" text-anchor="middle" font-weight="bold" fill="#111" >5</text>
<line x1="321.20" y1="106.00" x2="321.20" y2="107.00" stroke="#000" stroke-width="0.5" />
<text x="321.20" y="111.20" font-size="2.9" text-anchor="middle" font-weight="bold" fill="#111" >6</text>
<line x1="325.08" y1="106.00" x2="325.08" y2="107.00" stroke="#000" stroke-width="0.5" />
<text x="325.08" y="111.20" font-size="2.9" text-anchor="middle" font-weight="bold" fill="#111" >7</text>
<line x1="328.96" y1="106.00" x2="328.96" y2="107.00" stroke="#000" stroke-width="0.5" />
<text x="328.96" y="111.20" font-size="2.9" text-anchor="middle" font-weight="bold" fill="#111" >8</text>
<line x1="332.84" y1="106.00" x2="332.84" y2="107.00" stroke="#000" stroke-width="0.5" />
<text x="332.84" y="111.20" font-size="2.9" text-anchor="middle" font-weight="bold" fill="#111" >9</text>
<line x1="336.72" y1="106.00" x2="336.72" y2="107.00" stroke="#000" stroke-width="0.5" />
<text x="336.72" y="111.20" font-size="2.7" text-anchor="middle" font-weight="bold" fill="#111" letter-spacing="-0.25">10</text>
<line x1="340.60" y1="106.00" x2="340.60" y2="107.00" stroke="#000" stroke-width="0.5" />
<text x="340.60" y="111.20" font-size="2.7" text-anchor="middle" font-weight="bold" fill="#111" letter-spacing="-0.25">11</text>
<line x1="344.48" y1="106.00" x2="344.48" y2="107.00" stroke="#000" stroke-width="0.5" />
<text x="344.48" y="111.20" font-size="2.7" text-anchor="middle" font-weight="bold" fill="#111" letter-spacing="-0.25">12</text>
<line x1="348.36" y1="106.00" x2="348.36" y2="107.00" stroke="#000" stroke-width="0.5" />
<text x="348.36" y="111.20" font-size="2.7" text-anchor="middle" font-weight="bold" fill="#111" letter-spacing="-0.25">13</text>
<text x="325.60" y="116.60" font-size="4.0" text-anchor="middle" font-weight="bold" fill="#000" >DPI</text>
<polyline points="301.80,92.54 305.68,91.72 309.56,90.09 313.44,83.97 317.32,86.42 321.20,93.35 325.08,101.10 328.96,105.18 332.84,106.00" fill="none" stroke="#d05a6c" stroke-width="0.6" stroke-linejoin="round" />
<line x1="332.84" y1="106.00" x2="336.72" y2="106.00" stroke="#d8505f" stroke-width="0.6" />
<line x1="336.72" y1="106.00" x2="340.60" y2="106.00" stroke="#d8505f" stroke-width="0.6" />
<line x1="340.60" y1="106.00" x2="344.48" y2="106.00" stroke="#d8505f" stroke-width="0.6" />
<line x1="344.48" y1="106.00" x2="348.36" y2="106.00" stroke="#d8505f" stroke-width="0.6" />
<circle cx="301.80" cy="92.54" r="0.5" fill="#d05a6c"/>
<circle cx="305.68" cy="91.72" r="0.5" fill="#d05a6c"/>
<circle cx="309.56" cy="90.09" r="0.5" fill="#d05a6c"/>
<circle cx="313.44" cy="83.97" r="0.5" fill="#d05a6c"/>
<circle cx="317.32" cy="86.42" r="0.5" fill="#d05a6c"/>
<circle cx="321.20" cy="93.35" r="0.5" fill="#d05a6c"/>
<circle cx="325.08" cy="101.10" r="0.5" fill="#d05a6c"/>
<circle cx="328.96" cy="105.18" r="0.5" fill="#d05a6c"/>
<circle cx="332.84" cy="106.00" r="0.4" fill="#d05a6c"/>
<circle cx="336.72" cy="106.00" r="0.4" fill="#d05a6c"/>
<circle cx="340.60" cy="106.00" r="0.4" fill="#d05a6c"/>
<circle cx="344.48" cy="106.00" r="0.4" fill="#d05a6c"/>
<circle cx="348.36" cy="106.00" r="0.4" fill="#d05a6c"/>
<polyline points="301.80,86.42 305.68,88.05 309.56,86.42 313.44,83.15 317.32,85.60 321.20,92.94 325.08,100.70 328.96,104.78 332.84,106.00" fill="none" stroke="#3f9c8c" stroke-width="0.5" stroke-linejoin="round" />
<line x1="332.84" y1="106.00" x2="336.72" y2="106.00" stroke="#3f9c8c" stroke-width="0.6" />
<line x1="336.72" y1="106.00" x2="340.60" y2="106.00" stroke="#3f9c8c" stroke-width="0.6" />
<line x1="340.60" y1="106.00" x2="344.48" y2="106.00" stroke="#3f9c8c" stroke-width="0.6" />
<line x1="344.48" y1="106.00" x2="348.36" y2="106.00" stroke="#3f9c8c" stroke-width="0.6" />
<circle cx="301.80" cy="86.42" r="0.45" fill="#3f9c8c"/>
<circle cx="305.68" cy="88.05" r="0.45" fill="#3f9c8c"/>
<circle cx="309.56" cy="86.42" r="0.45" fill="#3f9c8c"/>
<circle cx="313.44" cy="83.15" r="0.45" fill="#3f9c8c"/>
<circle cx="317.32" cy="85.60" r="0.45" fill="#3f9c8c"/>
<circle cx="321.20" cy="92.94" r="0.45" fill="#3f9c8c"/>
<circle cx="325.08" cy="100.70" r="0.45" fill="#3f9c8c"/>
<circle cx="328.96" cy="104.78" r="0.45" fill="#3f9c8c"/>
<circle cx="332.84" cy="106.00" r="0.36000000000000004" fill="#3f9c8c"/>
<circle cx="336.72" cy="106.00" r="0.36000000000000004" fill="#3f9c8c"/>
<circle cx="340.60" cy="106.00" r="0.36000000000000004" fill="#3f9c8c"/>
<circle cx="344.48" cy="106.00" r="0.36000000000000004" fill="#3f9c8c"/>
<circle cx="348.36" cy="106.00" r="0.36000000000000004" fill="#3f9c8c"/>
<polyline points="301.80,80.91 305.68,84.99 309.56,82.34 313.44,82.34 317.32,85.60 321.20,92.54 325.08,100.29 328.96,104.98 332.84,106.00" fill="none" stroke="#8a1a30" stroke-width="1.3" stroke-linejoin="round" />
<line x1="332.84" y1="106.00" x2="336.72" y2="106.00" stroke="#d8505f" stroke-width="0.6" />
<line x1="336.72" y1="106.00" x2="340.60" y2="106.00" stroke="#d8505f" stroke-width="0.6" />
<line x1="340.60" y1="106.00" x2="344.48" y2="106.00" stroke="#d8505f" stroke-width="0.6" />
<line x1="344.48" y1="106.00" x2="348.36" y2="106.00" stroke="#d8505f" stroke-width="0.6" />
<circle cx="301.80" cy="80.91" r="0.6" fill="#8a1a30"/>
<circle cx="305.68" cy="84.99" r="0.6" fill="#8a1a30"/>
<circle cx="309.56" cy="82.34" r="0.6" fill="#8a1a30"/>
<circle cx="313.44" cy="82.34" r="0.6" fill="#8a1a30"/>
<circle cx="317.32" cy="85.60" r="0.6" fill="#8a1a30"/>
<circle cx="321.20" cy="92.54" r="0.6" fill="#8a1a30"/>
<circle cx="325.08" cy="100.29" r="0.6" fill="#8a1a30"/>
<circle cx="328.96" cy="104.98" r="0.6" fill="#8a1a30"/>
<circle cx="332.84" cy="106.00" r="0.48" fill="#8a1a30"/>
<circle cx="336.72" cy="106.00" r="0.48" fill="#8a1a30"/>
<circle cx="340.60" cy="106.00" r="0.48" fill="#8a1a30"/>
<circle cx="344.48" cy="106.00" r="0.48" fill="#8a1a30"/>
<circle cx="348.36" cy="106.00" r="0.48" fill="#8a1a30"/>
<text x="240.90" y="127.80" font-size="5.0" text-anchor="middle" font-weight="bold" fill="#000" textLength="9.3" lengthAdjust="spacingAndGlyphs">BM3</text>
<text transform="translate(210.20,150.45) rotate(-90)" font-size="4.3" font-weight="bold" text-anchor="middle" fill="#111">Log10 PFU/ml</text>
<line x1="215.60" y1="133.80" x2="215.60" y2="166.50" stroke="#000" stroke-width="0.6" />
<line x1="215.60" y1="166.50" x2="265.20" y2="166.50" stroke="#000" stroke-width="0.6" />
<line x1="214.60" y1="166.50" x2="215.60" y2="166.50" stroke="#000" stroke-width="0.5" />
<text x="214.40" y="167.60" font-size="3.1" text-anchor="end" font-weight="bold" fill="#000" >0</text>
<line x1="214.60" y1="162.44" x2="215.60" y2="162.44" stroke="#000" stroke-width="0.5" />
<text x="214.40" y="163.54" font-size="3.1" text-anchor="end" font-weight="bold" fill="#000" >1</text>
<line x1="214.60" y1="158.38" x2="215.60" y2="158.38" stroke="#000" stroke-width="0.5" />
<text x="214.40" y="159.48" font-size="3.1" text-anchor="end" font-weight="bold" fill="#000" >2</text>
<line x1="214.60" y1="154.32" x2="215.60" y2="154.32" stroke="#000" stroke-width="0.5" />
<text x="214.40" y="155.42" font-size="3.1" text-anchor="end" font-weight="bold" fill="#000" >3</text>
<line x1="214.60" y1="150.26" x2="215.60" y2="150.26" stroke="#000" stroke-width="0.5" />
<text x="214.40" y="151.36" font-size="3.1" text-anchor="end" font-weight="bold" fill="#000" >4</text>
<line x1="214.60" y1="146.20" x2="215.60" y2="146.20" stroke="#000" stroke-width="0.5" />
<text x="214.40" y="147.30" font-size="3.1" text-anchor="end" font-weight="bold" fill="#000" >5</text>
<line x1="214.60" y1="142.14" x2="215.60" y2="142.14" stroke="#000" stroke-width="0.5" />
<text x="214.40" y="143.24" font-size="3.1" text-anchor="end" font-weight="bold" fill="#000" >6</text>
<line x1="214.60" y1="138.08" x2="215.60" y2="138.08" stroke="#000" stroke-width="0.5" />
<text x="214.40" y="139.18" font-size="3.1" text-anchor="end" font-weight="bold" fill="#000" >7</text>
<line x1="214.60" y1="134.02" x2="215.60" y2="134.02" stroke="#000" stroke-width="0.5" />
<text x="214.40" y="135.12" font-size="3.1" text-anchor="end" font-weight="bold" fill="#000" >8</text>
<line x1="217.80" y1="166.50" x2="217.80" y2="167.50" stroke="#000" stroke-width="0.5" />
<text x="217.80" y="171.70" font-size="2.9" text-anchor="middle" font-weight="bold" fill="#111" >1</text>
<line x1="221.65" y1="166.50" x2="221.65" y2="167.50" stroke="#000" stroke-width="0.5" />
<text x="221.65" y="171.70" font-size="2.9" text-anchor="middle" font-weight="bold" fill="#111" >2</text>
<line x1="225.50" y1="166.50" x2="225.50" y2="167.50" stroke="#000" stroke-width="0.5" />
<text x="225.50" y="171.70" font-size="2.9" text-anchor="middle" font-weight="bold" fill="#111" >3</text>
<line x1="229.35" y1="166.50" x2="229.35" y2="167.50" stroke="#000" stroke-width="0.5" />
<text x="229.35" y="171.70" font-size="2.9" text-anchor="middle" font-weight="bold" fill="#111" >4</text>
<line x1="233.20" y1="166.50" x2="233.20" y2="167.50" stroke="#000" stroke-width="0.5" />
<text x="233.20" y="171.70" font-size="2.9" text-anchor="middle" font-weight="bold" fill="#111" >5</text>
<line x1="237.05" y1="166.50" x2="237.05" y2="167.50" stroke="#000" stroke-width="0.5" />
<text x="237.05" y="171.70" font-size="2.9" text-anchor="middle" font-weight="bold" fill="#111" >6</text>
<line x1="240.90" y1="166.50" x2="240.90" y2="167.50" stroke="#000" stroke-width="0.5" />
<text x="240.90" y="171.70" font-size="2.9" text-anchor="middle" font-weight="bold" fill="#111" >7</text>
<line x1="244.75" y1="166.50" x2="244.75" y2="167.50" stroke="#000" stroke-width="0.5" />
<text x="244.75" y="171.70" font-size="2.9" text-anchor="middle" font-weight="bold" fill="#111" >8</text>
<line x1="248.60" y1="166.50" x2="248.60" y2="167.50" stroke="#000" stroke-width="0.5" />
<text x="248.60" y="171.70" font-size="2.9" text-anchor="middle" font-weight="bold" fill="#111" >9</text>
<line x1="252.45" y1="166.50" x2="252.45" y2="167.50" stroke="#000" stroke-width="0.5" />
<text x="252.45" y="171.70" font-size="2.7" text-anchor="middle" font-weight="bold" fill="#111" letter-spacing="-0.25">10</text>
<line x1="256.30" y1="166.50" x2="256.30" y2="167.50" stroke="#000" stroke-width="0.5" />
<text x="256.30" y="171.70" font-size="2.7" text-anchor="middle" font-weight="bold" fill="#111" letter-spacing="-0.25">11</text>
<line x1="260.15" y1="166.50" x2="260.15" y2="167.50" stroke="#000" stroke-width="0.5" />
<text x="260.15" y="171.70" font-size="2.7" text-anchor="middle" font-weight="bold" fill="#111" letter-spacing="-0.25">12</text>
<line x1="264.00" y1="166.50" x2="264.00" y2="167.50" stroke="#000" stroke-width="0.5" />
<text x="264.00" y="171.70" font-size="2.7" text-anchor="middle" font-weight="bold" fill="#111" letter-spacing="-0.25">13</text>
<text x="241.60" y="177.10" font-size="4.0" text-anchor="middle" font-weight="bold" fill="#000" >DPI</text>
<polyline points="217.80,143.76 221.65,153.10 225.50,149.85 229.35,142.14 233.20,151.48 237.05,159.60 240.90,166.50" fill="none" stroke="#666" stroke-width="0.5" stroke-linejoin="round" />
<line x1="240.90" y1="166.50" x2="244.75" y2="166.50" stroke="#666" stroke-width="0.6" />
<line x1="244.75" y1="166.50" x2="248.60" y2="166.50" stroke="#666" stroke-width="0.6" />
<line x1="248.60" y1="166.50" x2="252.45" y2="166.50" stroke="#666" stroke-width="0.6" />
<line x1="252.45" y1="166.50" x2="256.30" y2="166.50" stroke="#666" stroke-width="0.6" />
<line x1="256.30" y1="166.50" x2="260.15" y2="166.50" stroke="#666" stroke-width="0.6" />
<line x1="260.15" y1="166.50" x2="264.00" y2="166.50" stroke="#666" stroke-width="0.6" />
<circle cx="217.80" cy="143.76" r="0.5" fill="#666"/>
<circle cx="221.65" cy="153.10" r="0.5" fill="#666"/>
<circle cx="225.50" cy="149.85" r="0.5" fill="#666"/>
<circle cx="229.35" cy="142.14" r="0.5" fill="#666"/>
<circle cx="233.20" cy="151.48" r="0.5" fill="#666"/>
<circle cx="237.05" cy="159.60" r="0.5" fill="#666"/>
<circle cx="240.90" cy="166.50" r="0.4" fill="#666"/>
<circle cx="244.75" cy="166.50" r="0.4" fill="#666"/>
<circle cx="248.60" cy="166.50" r="0.4" fill="#666"/>
<circle cx="252.45" cy="166.50" r="0.4" fill="#666"/>
<circle cx="256.30" cy="166.50" r="0.4" fill="#666"/>
<circle cx="260.15" cy="166.50" r="0.4" fill="#666"/>
<circle cx="264.00" cy="166.50" r="0.4" fill="#666"/>
<polyline points="217.80,140.92 221.65,149.45 225.50,146.20 229.35,142.95 233.20,148.64 237.05,156.35 240.90,163.25 244.75,166.50" fill="none" stroke="#888" stroke-width="0.5" stroke-linejoin="round" />
<line x1="244.75" y1="166.50" x2="248.60" y2="166.50" stroke="#888" stroke-width="0.6" />
<line x1="248.60" y1="166.50" x2="252.45" y2="166.50" stroke="#888" stroke-width="0.6" />
<line x1="252.45" y1="166.50" x2="256.30" y2="166.50" stroke="#888" stroke-width="0.6" />
<line x1="256.30" y1="166.50" x2="260.15" y2="166.50" stroke="#888" stroke-width="0.6" />
<line x1="260.15" y1="166.50" x2="264.00" y2="166.50" stroke="#888" stroke-width="0.6" />
<circle cx="217.80" cy="140.92" r="0.5" fill="#888"/>
<circle cx="221.65" cy="149.45" r="0.5" fill="#888"/>
<circle cx="225.50" cy="146.20" r="0.5" fill="#888"/>
<circle cx="229.35" cy="142.95" r="0.5" fill="#888"/>
<circle cx="233.20" cy="148.64" r="0.5" fill="#888"/>
<circle cx="237.05" cy="156.35" r="0.5" fill="#888"/>
<circle cx="240.90" cy="163.25" r="0.5" fill="#888"/>
<circle cx="244.75" cy="166.50" r="0.4" fill="#888"/>
<circle cx="248.60" cy="166.50" r="0.4" fill="#888"/>
<circle cx="252.45" cy="166.50" r="0.4" fill="#888"/>
<circle cx="256.30" cy="166.50" r="0.4" fill="#888"/>
<circle cx="260.15" cy="166.50" r="0.4" fill="#888"/>
<circle cx="264.00" cy="166.50" r="0.4" fill="#888"/>
<polyline points="217.80,138.49 221.65,143.76 225.50,140.52 229.35,141.33 233.20,145.39 237.05,151.07 240.90,156.76 244.75,164.06 248.60,166.50" fill="none" stroke="#d03040" stroke-width="0.7" stroke-linejoin="round" />
<line x1="248.60" y1="166.50" x2="252.45" y2="166.50" stroke="#d8505f" stroke-width="0.6" />
<line x1="252.45" y1="166.50" x2="256.30" y2="166.50" stroke="#d8505f" stroke-width="0.6" />
<line x1="256.30" y1="166.50" x2="260.15" y2="166.50" stroke="#d8505f" stroke-width="0.6" />
<line x1="260.15" y1="166.50" x2="264.00" y2="166.50" stroke="#d8505f" stroke-width="0.6" />
<circle cx="217.80" cy="138.49" r="0.5" fill="#d03040"/>
<circle cx="221.65" cy="143.76" r="0.5" fill="#d03040"/>
<circle cx="225.50" cy="140.52" r="0.5" fill="#d03040"/>
<circle cx="229.35" cy="141.33" r="0.5" fill="#d03040"/>
<circle cx="233.20" cy="145.39" r="0.5" fill="#d03040"/>
<circle cx="237.05" cy="151.07" r="0.5" fill="#d03040"/>
<circle cx="240.90" cy="156.76" r="0.5" fill="#d03040"/>
<circle cx="244.75" cy="164.06" r="0.5" fill="#d03040"/>
<circle cx="248.60" cy="166.50" r="0.4" fill="#d03040"/>
<circle cx="252.45" cy="166.50" r="0.4" fill="#d03040"/>
<circle cx="256.30" cy="166.50" r="0.4" fill="#d03040"/>
<circle cx="260.15" cy="166.50" r="0.4" fill="#d03040"/>
<circle cx="264.00" cy="166.50" r="0.4" fill="#d03040"/>
<polyline points="217.80,138.89 221.65,144.78 225.50,142.14 229.35,142.14 233.20,146.61 237.05,153.10 240.90,158.79 244.75,165.28 248.60,166.50" fill="none" stroke="#8a1a30" stroke-width="1.0" stroke-linejoin="round" />
<line x1="248.60" y1="166.50" x2="252.45" y2="166.50" stroke="#d8505f" stroke-width="0.6" />
<line x1="252.45" y1="166.50" x2="256.30" y2="166.50" stroke="#d8505f" stroke-width="0.6" />
<line x1="256.30" y1="166.50" x2="260.15" y2="166.50" stroke="#d8505f" stroke-width="0.6" />
<line x1="260.15" y1="166.50" x2="264.00" y2="166.50" stroke="#d8505f" stroke-width="0.6" />
<circle cx="217.80" cy="138.89" r="0.6" fill="#8a1a30"/>
<circle cx="221.65" cy="144.78" r="0.6" fill="#8a1a30"/>
<circle cx="225.50" cy="142.14" r="0.6" fill="#8a1a30"/>
<circle cx="229.35" cy="142.14" r="0.6" fill="#8a1a30"/>
<circle cx="233.20" cy="146.61" r="0.6" fill="#8a1a30"/>
<circle cx="237.05" cy="153.10" r="0.6" fill="#8a1a30"/>
<circle cx="240.90" cy="158.79" r="0.6" fill="#8a1a30"/>
<circle cx="244.75" cy="165.28" r="0.6" fill="#8a1a30"/>
<circle cx="248.60" cy="166.50" r="0.48" fill="#8a1a30"/>
<circle cx="252.45" cy="166.50" r="0.48" fill="#8a1a30"/>
<circle cx="256.30" cy="166.50" r="0.48" fill="#8a1a30"/>
<circle cx="260.15" cy="166.50" r="0.48" fill="#8a1a30"/>
<circle cx="264.00" cy="166.50" r="0.48" fill="#8a1a30"/>
<text x="322.50" y="127.60" font-size="5.0" text-anchor="middle" font-weight="bold" fill="#000" textLength="20.5" lengthAdjust="spacingAndGlyphs">in-contact</text>
<text transform="translate(294.20,148.75) rotate(-90)" font-size="4.3" font-weight="bold" text-anchor="middle" fill="#111">Log10 PFU/ml</text>
<line x1="299.60" y1="132.70" x2="299.60" y2="164.20" stroke="#000" stroke-width="0.6" />
<line x1="299.60" y1="164.20" x2="345.60" y2="164.20" stroke="#000" stroke-width="0.6" />
<line x1="298.60" y1="164.20" x2="299.60" y2="164.20" stroke="#000" stroke-width="0.5" />
<text x="298.40" y="165.30" font-size="3.1" text-anchor="end" font-weight="bold" fill="#000" >0</text>
<line x1="298.60" y1="160.24" x2="299.60" y2="160.24" stroke="#000" stroke-width="0.5" />
<text x="298.40" y="161.34" font-size="3.1" text-anchor="end" font-weight="bold" fill="#000" >1</text>
<line x1="298.60" y1="156.28" x2="299.60" y2="156.28" stroke="#000" stroke-width="0.5" />
<text x="298.40" y="157.38" font-size="3.1" text-anchor="end" font-weight="bold" fill="#000" >2</text>
<line x1="298.60" y1="152.32" x2="299.60" y2="152.32" stroke="#000" stroke-width="0.5" />
<text x="298.40" y="153.42" font-size="3.1" text-anchor="end" font-weight="bold" fill="#000" >3</text>
<line x1="298.60" y1="148.36" x2="299.60" y2="148.36" stroke="#000" stroke-width="0.5" />
<text x="298.40" y="149.46" font-size="3.1" text-anchor="end" font-weight="bold" fill="#000" >4</text>
<line x1="298.60" y1="144.40" x2="299.60" y2="144.40" stroke="#000" stroke-width="0.5" />
<text x="298.40" y="145.50" font-size="3.1" text-anchor="end" font-weight="bold" fill="#000" >5</text>
<line x1="298.60" y1="140.44" x2="299.60" y2="140.44" stroke="#000" stroke-width="0.5" />
<text x="298.40" y="141.54" font-size="3.1" text-anchor="end" font-weight="bold" fill="#000" >6</text>
<line x1="298.60" y1="136.48" x2="299.60" y2="136.48" stroke="#000" stroke-width="0.5" />
<text x="298.40" y="137.58" font-size="3.1" text-anchor="end" font-weight="bold" fill="#000" >7</text>
<line x1="298.60" y1="132.52" x2="299.60" y2="132.52" stroke="#000" stroke-width="0.5" />
<text x="298.40" y="133.62" font-size="3.1" text-anchor="end" font-weight="bold" fill="#000" >8</text>
<line x1="301.10" y1="164.20" x2="301.10" y2="165.20" stroke="#000" stroke-width="0.5" />
<text x="301.10" y="169.40" font-size="2.9" text-anchor="middle" font-weight="bold" fill="#111" >1</text>
<line x1="304.80" y1="164.20" x2="304.80" y2="165.20" stroke="#000" stroke-width="0.5" />
<text x="304.80" y="169.40" font-size="2.9" text-anchor="middle" font-weight="bold" fill="#111" >2</text>
<line x1="308.50" y1="164.20" x2="308.50" y2="165.20" stroke="#000" stroke-width="0.5" />
<text x="308.50" y="169.40" font-size="2.9" text-anchor="middle" font-weight="bold" fill="#111" >3</text>
<line x1="312.20" y1="164.20" x2="312.20" y2="165.20" stroke="#000" stroke-width="0.5" />
<text x="312.20" y="169.40" font-size="2.9" text-anchor="middle" font-weight="bold" fill="#111" >4</text>
<line x1="315.90" y1="164.20" x2="315.90" y2="165.20" stroke="#000" stroke-width="0.5" />
<text x="315.90" y="169.40" font-size="2.9" text-anchor="middle" font-weight="bold" fill="#111" >5</text>
<line x1="319.60" y1="164.20" x2="319.60" y2="165.20" stroke="#000" stroke-width="0.5" />
<text x="319.60" y="169.40" font-size="2.9" text-anchor="middle" font-weight="bold" fill="#111" >6</text>
<line x1="323.30" y1="164.20" x2="323.30" y2="165.20" stroke="#000" stroke-width="0.5" />
<text x="323.30" y="169.40" font-size="2.9" text-anchor="middle" font-weight="bold" fill="#111" >7</text>
<line x1="327.00" y1="164.20" x2="327.00" y2="165.20" stroke="#000" stroke-width="0.5" />
<text x="327.00" y="169.40" font-size="2.9" text-anchor="middle" font-weight="bold" fill="#111" >8</text>
<line x1="330.70" y1="164.20" x2="330.70" y2="165.20" stroke="#000" stroke-width="0.5" />
<text x="330.70" y="169.40" font-size="2.9" text-anchor="middle" font-weight="bold" fill="#111" >9</text>
<line x1="334.40" y1="164.20" x2="334.40" y2="165.20" stroke="#000" stroke-width="0.5" />
<text x="334.40" y="169.40" font-size="2.7" text-anchor="middle" font-weight="bold" fill="#111" letter-spacing="-0.25">10</text>
<line x1="338.10" y1="164.20" x2="338.10" y2="165.20" stroke="#000" stroke-width="0.5" />
<text x="338.10" y="169.40" font-size="2.7" text-anchor="middle" font-weight="bold" fill="#111" letter-spacing="-0.25">11</text>
<line x1="341.80" y1="164.20" x2="341.80" y2="165.20" stroke="#000" stroke-width="0.5" />
<text x="341.80" y="169.40" font-size="2.7" text-anchor="middle" font-weight="bold" fill="#111" letter-spacing="-0.25">12</text>
<line x1="345.50" y1="164.20" x2="345.50" y2="165.20" stroke="#000" stroke-width="0.5" />
<text x="345.50" y="169.40" font-size="2.7" text-anchor="middle" font-weight="bold" fill="#111" letter-spacing="-0.25">13</text>
<text x="320.90" y="173.80" font-size="4.0" text-anchor="middle" font-weight="bold" fill="#000" >DPI</text>
<line x1="301.10" y1="164.20" x2="304.80" y2="164.20" stroke="#e02a3a" stroke-width="0.6" />
<polyline points="304.80,164.20 308.50,157.47 312.20,164.20" fill="none" stroke="#e02a3a" stroke-width="0.6" stroke-linejoin="round" />
<line x1="312.20" y1="164.20" x2="315.90" y2="164.20" stroke="#e02a3a" stroke-width="0.6" />
<line x1="315.90" y1="164.20" x2="319.60" y2="164.20" stroke="#e02a3a" stroke-width="0.6" />
<line x1="319.60" y1="164.20" x2="323.30" y2="164.20" stroke="#e02a3a" stroke-width="0.6" />
<line x1="323.30" y1="164.20" x2="327.00" y2="164.20" stroke="#e02a3a" stroke-width="0.6" />
<line x1="327.00" y1="164.20" x2="330.70" y2="164.20" stroke="#e02a3a" stroke-width="0.6" />
<line x1="330.70" y1="164.20" x2="334.40" y2="164.20" stroke="#e02a3a" stroke-width="0.6" />
<line x1="334.40" y1="164.20" x2="338.10" y2="164.20" stroke="#e02a3a" stroke-width="0.6" />
<line x1="338.10" y1="164.20" x2="341.80" y2="164.20" stroke="#e02a3a" stroke-width="0.6" />
<line x1="341.80" y1="164.20" x2="345.50" y2="164.20" stroke="#e02a3a" stroke-width="0.6" />
<circle cx="301.10" cy="164.20" r="0.44000000000000006" fill="#e02a3a"/>
<circle cx="304.80" cy="164.20" r="0.44000000000000006" fill="#e02a3a"/>
<circle cx="308.50" cy="157.47" r="0.55" fill="#e02a3a"/>
<circle cx="312.20" cy="164.20" r="0.44000000000000006" fill="#e02a3a"/>
<circle cx="315.90" cy="164.20" r="0.44000000000000006" fill="#e02a3a"/>
<circle cx="319.60" cy="164.20" r="0.44000000000000006" fill="#e02a3a"/>
<circle cx="323.30" cy="164.20" r="0.44000000000000006" fill="#e02a3a"/>
<circle cx="327.00" cy="164.20" r="0.44000000000000006" fill="#e02a3a"/>
<circle cx="330.70" cy="164.20" r="0.44000000000000006" fill="#e02a3a"/>
<circle cx="334.40" cy="164.20" r="0.44000000000000006" fill="#e02a3a"/>
<circle cx="338.10" cy="164.20" r="0.44000000000000006" fill="#e02a3a"/>
<circle cx="341.80" cy="164.20" r="0.44000000000000006" fill="#e02a3a"/>
<circle cx="345.50" cy="164.20" r="0.44000000000000006" fill="#e02a3a"/>
<line x1="301.10" y1="164.20" x2="304.80" y2="164.20" stroke="#e02a3a" stroke-width="0.6" />
<line x1="304.80" y1="164.20" x2="308.50" y2="164.20" stroke="#e02a3a" stroke-width="0.6" />
<line x1="308.50" y1="164.20" x2="312.20" y2="164.20" stroke="#e02a3a" stroke-width="0.6" />
<line x1="312.20" y1="164.20" x2="315.90" y2="164.20" stroke="#e02a3a" stroke-width="0.6" />
<line x1="315.90" y1="164.20" x2="319.60" y2="164.20" stroke="#e02a3a" stroke-width="0.6" />
<polyline points="319.60,164.20 323.30,149.55 327.00,154.70 330.70,158.66 334.40,164.20" fill="none" stroke="#e02a3a" stroke-width="0.6" stroke-linejoin="round" />
<line x1="334.40" y1="164.20" x2="338.10" y2="164.20" stroke="#e02a3a" stroke-width="0.6" />
<line x1="338.10" y1="164.20" x2="341.80" y2="164.20" stroke="#e02a3a" stroke-width="0.6" />
<line x1="341.80" y1="164.20" x2="345.50" y2="164.20" stroke="#e02a3a" stroke-width="0.6" />
<circle cx="301.10" cy="164.20" r="0.44000000000000006" fill="#e02a3a"/>
<circle cx="304.80" cy="164.20" r="0.44000000000000006" fill="#e02a3a"/>
<circle cx="308.50" cy="164.20" r="0.44000000000000006" fill="#e02a3a"/>
<circle cx="312.20" cy="164.20" r="0.44000000000000006" fill="#e02a3a"/>
<circle cx="315.90" cy="164.20" r="0.44000000000000006" fill="#e02a3a"/>
<circle cx="319.60" cy="164.20" r="0.44000000000000006" fill="#e02a3a"/>
<circle cx="323.30" cy="149.55" r="0.55" fill="#e02a3a"/>
<circle cx="327.00" cy="154.70" r="0.55" fill="#e02a3a"/>
<circle cx="330.70" cy="158.66" r="0.55" fill="#e02a3a"/>
<circle cx="334.40" cy="164.20" r="0.44000000000000006" fill="#e02a3a"/>
<circle cx="338.10" cy="164.20" r="0.44000000000000006" fill="#e02a3a"/>
<circle cx="341.80" cy="164.20" r="0.44000000000000006" fill="#e02a3a"/>
<circle cx="345.50" cy="164.20" r="0.44000000000000006" fill="#e02a3a"/>
<line x1="301.10" y1="164.20" x2="304.80" y2="164.20" stroke="#e02a3a" stroke-width="0.6" />
<line x1="304.80" y1="164.20" x2="308.50" y2="164.20" stroke="#e02a3a" stroke-width="0.6" />
<line x1="308.50" y1="164.20" x2="312.20" y2="164.20" stroke="#e02a3a" stroke-width="0.6" />
<line x1="312.20" y1="164.20" x2="315.90" y2="164.20" stroke="#e02a3a" stroke-width="0.6" />
<line x1="315.90" y1="164.20" x2="319.60" y2="164.20" stroke="#e02a3a" stroke-width="0.6" />
<polyline points="319.60,164.20 323.30,144.40 327.00,150.74 330.70,157.47 334.40,164.20" fill="none" stroke="#e02a3a" stroke-width="0.6" stroke-linejoin="round" />
<line x1="334.40" y1="164.20" x2="338.10" y2="164.20" stroke="#e02a3a" stroke-width="0.6" />
<line x1="338.10" y1="164.20" x2="341.80" y2="164.20" stroke="#e02a3a" stroke-width="0.6" />
<line x1="341.80" y1="164.20" x2="345.50" y2="164.20" stroke="#e02a3a" stroke-width="0.6" />
<line x1="301.10" y1="164.20" x2="304.80" y2="164.20" stroke="#e02a3a" stroke-width="0.6" />
<line x1="304.80" y1="164.20" x2="308.50" y2="164.20" stroke="#e02a3a" stroke-width="0.6" />
<line x1="308.50" y1="164.20" x2="312.20" y2="164.20" stroke="#e02a3a" stroke-width="0.6" />
<line x1="312.20" y1="164.20" x2="315.90" y2="164.20" stroke="#e02a3a" stroke-width="0.6" />
<line x1="315.90" y1="164.20" x2="319.60" y2="164.20" stroke="#e02a3a" stroke-width="0.6" />
<polyline points="319.60,164.20 323.30,144.40 327.00,145.19 330.70,145.98 334.40,150.74 338.10,155.09 341.80,159.84 345.50,164.20" fill="none" stroke="#e02a3a" stroke-width="0.6" stroke-linejoin="round" />
<line x1="301.10" y1="164.20" x2="304.80" y2="164.20" stroke="#3f9c8c" stroke-width="0.6" />
<line x1="304.80" y1="164.20" x2="308.50" y2="164.20" stroke="#3f9c8c" stroke-width="0.6" />
<line x1="308.50" y1="164.20" x2="312.20" y2="164.20" stroke="#3f9c8c" stroke-width="0.6" />
<line x1="312.20" y1="164.20" x2="315.90" y2="164.20" stroke="#3f9c8c" stroke-width="0.6" />
<line x1="315.90" y1="164.20" x2="319.60" y2="164.20" stroke="#3f9c8c" stroke-width="0.6" />
<polyline points="319.60,164.20 323.30,152.32 327.00,155.49 330.70,158.66 334.40,164.20" fill="none" stroke="#3f9c8c" stroke-width="0.5" stroke-linejoin="round" />
<line x1="334.40" y1="164.20" x2="338.10" y2="164.20" stroke="#3f9c8c" stroke-width="0.6" />
<line x1="338.10" y1="164.20" x2="341.80" y2="164.20" stroke="#3f9c8c" stroke-width="0.6" />
<line x1="341.80" y1="164.20" x2="345.50" y2="164.20" stroke="#3f9c8c" stroke-width="0.6" />
<polyline points="301.10,150.34 304.80,153.90 308.50,145.19 312.20,146.38 315.90,142.42 319.60,142.82 323.30,142.82 327.00,153.51 330.70,164.20" fill="none" stroke="#111" stroke-width="0.6" stroke-linejoin="round" />
<line x1="330.70" y1="164.20" x2="334.40" y2="164.20" stroke="#111" stroke-width="0.6" />
<line x1="334.40" y1="164.20" x2="338.10" y2="164.20" stroke="#111" stroke-width="0.6" />
<line x1="338.10" y1="164.20" x2="341.80" y2="164.20" stroke="#111" stroke-width="0.6" />
<line x1="341.80" y1="164.20" x2="345.50" y2="164.20" stroke="#111" stroke-width="0.6" />
<circle cx="301.10" cy="150.34" r="0.65" fill="#111"/>
<circle cx="304.80" cy="153.90" r="0.65" fill="#111"/>
<circle cx="308.50" cy="145.19" r="0.65" fill="#111"/>
<circle cx="312.20" cy="146.38" r="0.65" fill="#111"/>
<circle cx="315.90" cy="142.42" r="0.65" fill="#111"/>
<circle cx="319.60" cy="142.82" r="0.65" fill="#111"/>
<circle cx="323.30" cy="142.82" r="0.65" fill="#111"/>
<circle cx="327.00" cy="153.51" r="0.65" fill="#111"/>
<circle cx="330.70" cy="164.20" r="0.52" fill="#111"/>
<circle cx="334.40" cy="164.20" r="0.52" fill="#111"/>
<circle cx="338.10" cy="164.20" r="0.52" fill="#111"/>
<circle cx="341.80" cy="164.20" r="0.52" fill="#111"/>
<circle cx="345.50" cy="164.20" r="0.52" fill="#111"/>
<polyline points="301.10,157.47 304.80,153.90 308.50,157.07 312.20,158.26 315.90,153.11 319.60,145.98 323.30,142.82 327.00,153.51 330.70,164.20" fill="none" stroke="#111" stroke-width="0.6" stroke-linejoin="round" />
<line x1="330.70" y1="164.20" x2="334.40" y2="164.20" stroke="#111" stroke-width="0.6" />
<line x1="334.40" y1="164.20" x2="338.10" y2="164.20" stroke="#111" stroke-width="0.6" />
<line x1="338.10" y1="164.20" x2="341.80" y2="164.20" stroke="#111" stroke-width="0.6" />
<line x1="341.80" y1="164.20" x2="345.50" y2="164.20" stroke="#111" stroke-width="0.6" />
<circle cx="301.10" cy="157.47" r="0.65" fill="#111"/>
<circle cx="304.80" cy="153.90" r="0.65" fill="#111"/>
<circle cx="308.50" cy="157.07" r="0.65" fill="#111"/>
<circle cx="312.20" cy="158.26" r="0.65" fill="#111"/>
<circle cx="315.90" cy="153.11" r="0.65" fill="#111"/>
<circle cx="319.60" cy="145.98" r="0.65" fill="#111"/>
<circle cx="323.30" cy="142.82" r="0.65" fill="#111"/>
<circle cx="327.00" cy="153.51" r="0.65" fill="#111"/>
<circle cx="330.70" cy="164.20" r="0.52" fill="#111"/>
<circle cx="334.40" cy="164.20" r="0.52" fill="#111"/>
<circle cx="338.10" cy="164.20" r="0.52" fill="#111"/>
<circle cx="341.80" cy="164.20" r="0.52" fill="#111"/>
<circle cx="345.50" cy="164.20" r="0.52" fill="#111"/>
<circle cx="330.70" cy="145.98" r="0.7" fill="#e02a3a"/>
<circle cx="338.10" cy="155.09" r="0.7" fill="#e02a3a"/>
<text x="1.80" y="182.30" font-size="6.2" text-anchor="start" font-weight="bold" fill="#000" >C</text>
<text x="82.60" y="195.00" font-size="7.3" text-anchor="middle" font-weight="bold" fill="#000" >CD8β</text>
<text x="170.80" y="195.00" font-size="7.3" text-anchor="middle" font-weight="bold" fill="#000" >CD4</text>
<text x="253.40" y="195.00" font-size="7.3" text-anchor="middle" font-weight="bold" fill="#000" >γδ T cells</text>
<text x="-0.60" y="216.90" font-size="6.9" text-anchor="start" font-weight="bold" fill="#000" >BAL</text>
<text x="-0.60" y="259.60" font-size="6.9" text-anchor="start" font-weight="bold" fill="#000" >Lung</text>
<text x="-0.60" y="321.90" font-size="6.9" text-anchor="start" font-weight="bold" fill="#000" >TBLN</text>
<text x="-0.60" y="367.80" font-size="6.9" text-anchor="start" font-weight="bold" fill="#000" >PBMC</text>
<text transform="translate(28.60,215.00) rotate(-90)" font-size="4.3" font-weight="bold" text-anchor="middle" fill="#000">% live lymphocytes</text>
<line x1="39.80" y1="196.90" x2="39.80" y2="232.50" stroke="#000" stroke-width="0.7" />
<line x1="39.80" y1="232.50" x2="109.50" y2="232.50" stroke="#000" stroke-width="0.7" />
<line x1="38.60" y1="232.50" x2="39.80" y2="232.50" stroke="#000" stroke-width="0.5" />
<text x="38.30" y="233.65" font-size="3.3" text-anchor="end" font-weight="bold" fill="#111" >0</text>
<line x1="38.60" y1="225.38" x2="39.80" y2="225.38" stroke="#000" stroke-width="0.5" />
<text x="38.30" y="226.53" font-size="3.3" text-anchor="end" font-weight="bold" fill="#111" >20</text>
<line x1="38.60" y1="218.26" x2="39.80" y2="218.26" stroke="#000" stroke-width="0.5" />
<text x="38.30" y="219.41" font-size="3.3" text-anchor="end" font-weight="bold" fill="#111" >40</text>
<line x1="38.60" y1="211.14" x2="39.80" y2="211.14" stroke="#000" stroke-width="0.5" />
<text x="38.30" y="212.29" font-size="3.3" text-anchor="end" font-weight="bold" fill="#111" >60</text>
<line x1="38.60" y1="204.02" x2="39.80" y2="204.02" stroke="#000" stroke-width="0.5" />
<text x="38.30" y="205.17" font-size="3.3" text-anchor="end" font-weight="bold" fill="#111" >80</text>
<line x1="38.60" y1="196.90" x2="39.80" y2="196.90" stroke="#000" stroke-width="0.5" />
<text x="38.30" y="198.05" font-size="3.3" text-anchor="end" font-weight="bold" fill="#111" >100</text>
<line x1="43.20" y1="232.50" x2="43.20" y2="233.60" stroke="#000" stroke-width="0.5" />
<line x1="52.30" y1="232.50" x2="52.30" y2="233.60" stroke="#000" stroke-width="0.5" />
<line x1="56.91" y1="232.50" x2="56.91" y2="233.60" stroke="#000" stroke-width="0.5" />
<line x1="61.52" y1="232.50" x2="61.52" y2="233.60" stroke="#000" stroke-width="0.5" />
<line x1="66.12" y1="232.50" x2="66.12" y2="233.60" stroke="#000" stroke-width="0.5" />
<line x1="70.73" y1="232.50" x2="70.73" y2="233.60" stroke="#000" stroke-width="0.5" />
<line x1="75.34" y1="232.50" x2="75.34" y2="233.60" stroke="#000" stroke-width="0.5" />
<line x1="79.95" y1="232.50" x2="79.95" y2="233.60" stroke="#000" stroke-width="0.5" />
<line x1="89.17" y1="232.50" x2="89.17" y2="233.60" stroke="#000" stroke-width="0.5" />
<line x1="98.38" y1="232.50" x2="98.38" y2="233.60" stroke="#000" stroke-width="0.5" />
<line x1="107.60" y1="232.50" x2="107.60" y2="233.60" stroke="#000" stroke-width="0.5" />
<line x1="84.56" y1="232.50" x2="84.56" y2="233.60" stroke="#000" stroke-width="0.5" />
<line x1="93.78" y1="232.50" x2="93.78" y2="233.60" stroke="#000" stroke-width="0.5" />
<line x1="102.99" y1="232.50" x2="102.99" y2="233.60" stroke="#000" stroke-width="0.5" />
<text x="42.60" y="237.90" font-size="3.7" text-anchor="middle" font-weight="bold" fill="#111" >control</text>
<text x="52.50" y="237.90" font-size="3.7" text-anchor="middle" font-weight="bold" fill="#111" >1</text>
<text x="57.11" y="237.90" font-size="3.7" text-anchor="middle" font-weight="bold" fill="#111" >2</text>
<text x="61.72" y="237.90" font-size="3.7" text-anchor="middle" font-weight="bold" fill="#111" >3</text>
<text x="66.33" y="237.90" font-size="3.7" text-anchor="middle" font-weight="bold" fill="#111" >4</text>
<text x="70.93" y="237.90" font-size="3.7" text-anchor="middle" font-weight="bold" fill="#111" >5</text>
<text x="75.54" y="237.90" font-size="3.7" text-anchor="middle" font-weight="bold" fill="#111" >6</text>
<text x="80.15" y="237.90" font-size="3.7" text-anchor="middle" font-weight="bold" fill="#111" >7</text>
<text x="89.37" y="237.90" font-size="3.7" text-anchor="middle" font-weight="bold" fill="#111" >9</text>
<text x="98.58" y="237.90" font-size="3.7" text-anchor="middle" font-weight="bold" fill="#111" >11</text>
<text x="107.80" y="237.90" font-size="3.7" text-anchor="middle" font-weight="bold" fill="#111" >13</text>
<text x="77.70" y="242.70" font-size="3.7" text-anchor="middle" font-weight="normal" fill="#111" >DPI</text>
<polygon points="43.20,228.41 52.30,227.34 56.91,227.34 61.52,227.34 66.12,227.69 70.73,226.63 75.34,226.63 79.95,225.91 89.17,223.78 98.38,224.49 107.60,221.64 107.60,224.85 98.38,227.69 89.17,226.98 79.95,229.12 75.34,229.83 70.73,229.83 66.12,230.90 61.52,230.54 56.91,230.54 52.30,230.54 43.20,231.61" fill="#fadde2"/>
<line x1="61.52" y1="219.33" x2="61.52" y2="223.60" stroke="#333" stroke-width="0.4" />
<line x1="60.82" y1="219.33" x2="62.22" y2="219.33" stroke="#333" stroke-width="0.4" />
<line x1="60.82" y1="223.60" x2="62.22" y2="223.60" stroke="#333" stroke-width="0.4" />
<line x1="79.95" y1="222.18" x2="79.95" y2="225.74" stroke="#333" stroke-width="0.4" />
<line x1="79.25" y1="222.18" x2="80.65" y2="222.18" stroke="#333" stroke-width="0.4" />
<line x1="79.25" y1="225.74" x2="80.65" y2="225.74" stroke="#333" stroke-width="0.4" />
<line x1="98.38" y1="222.53" x2="98.38" y2="228.23" stroke="#333" stroke-width="0.4" />
<line x1="97.68" y1="222.53" x2="99.08" y2="222.53" stroke="#333" stroke-width="0.4" />
<line x1="97.68" y1="228.23" x2="99.08" y2="228.23" stroke="#333" stroke-width="0.4" />
<line x1="98.38" y1="223.96" x2="98.38" y2="228.23" stroke="#e0404a" stroke-width="0.4" />
<line x1="97.68" y1="223.96" x2="99.08" y2="223.96" stroke="#e0404a" stroke-width="0.4" />
<line x1="97.68" y1="228.23" x2="99.08" y2="228.23" stroke="#e0404a" stroke-width="0.4" />
<line x1="107.60" y1="218.62" x2="107.60" y2="222.89" stroke="#333" stroke-width="0.4" />
<line x1="106.90" y1="218.62" x2="108.30" y2="218.62" stroke="#333" stroke-width="0.4" />
<line x1="106.90" y1="222.89" x2="108.30" y2="222.89" stroke="#333" stroke-width="0.4" />
<line x1="107.60" y1="221.46" x2="107.60" y2="225.02" stroke="#e0404a" stroke-width="0.4" />
<line x1="106.90" y1="221.46" x2="108.30" y2="221.46" stroke="#e0404a" stroke-width="0.4" />
<line x1="106.90" y1="225.02" x2="108.30" y2="225.02" stroke="#e0404a" stroke-width="0.4" />
<polyline points="43.20,223.96 52.30,223.96 56.91,223.96 61.52,221.46 66.12,226.09 70.73,226.09 75.34,226.09 79.95,223.96 89.17,225.38 98.38,225.38 107.60,220.75" fill="none" stroke="#111" stroke-width="0.7" stroke-linejoin="round" />
<circle cx="43.20" cy="223.96" r="0.9" fill="#111"/>
<circle cx="52.30" cy="223.96" r="0.9" fill="#111"/>
<circle cx="56.91" cy="223.96" r="0.9" fill="#111"/>
<circle cx="61.52" cy="221.46" r="0.9" fill="#111"/>
<circle cx="66.12" cy="226.09" r="0.9" fill="#111"/>
<circle cx="70.73" cy="226.09" r="0.9" fill="#111"/>
<circle cx="75.34" cy="226.09" r="0.9" fill="#111"/>
<circle cx="79.95" cy="223.96" r="0.9" fill="#111"/>
<circle cx="89.17" cy="225.38" r="0.9" fill="#111"/>
<circle cx="98.38" cy="225.38" r="0.9" fill="#111"/>
<circle cx="107.60" cy="220.75" r="0.9" fill="#111"/>
<polyline points="43.20,230.01 52.30,228.94 56.91,228.94 61.52,228.94 66.12,229.30 70.73,228.23 75.34,228.23 79.95,227.52 89.17,225.38 98.38,226.09 107.60,223.24" fill="none" stroke="#e0202a" stroke-width="0.7" stroke-linejoin="round" />
<circle cx="43.20" cy="230.01" r="0.9" fill="#e0202a"/>
<circle cx="52.30" cy="228.94" r="0.9" fill="#e0202a"/>
<circle cx="56.91" cy="228.94" r="0.9" fill="#e0202a"/>
<circle cx="61.52" cy="228.94" r="0.9" fill="#e0202a"/>
<circle cx="66.12" cy="229.30" r="0.9" fill="#e0202a"/>
<circle cx="70.73" cy="228.23" r="0.9" fill="#e0202a"/>
<circle cx="75.34" cy="228.23" r="0.9" fill="#e0202a"/>
<circle cx="79.95" cy="227.52" r="0.9" fill="#e0202a"/>
<circle cx="89.17" cy="225.38" r="0.9" fill="#e0202a"/>
<circle cx="98.38" cy="226.09" r="0.9" fill="#e0202a"/>
<circle cx="107.60" cy="223.24" r="0.9" fill="#e0202a"/>
<line x1="124.40" y1="197.25" x2="124.40" y2="232.30" stroke="#000" stroke-width="0.7" />
<line x1="124.40" y1="232.30" x2="195.90" y2="232.30" stroke="#000" stroke-width="0.7" />
<line x1="123.20" y1="232.30" x2="124.40" y2="232.30" stroke="#000" stroke-width="0.5" />
<text x="122.90" y="233.45" font-size="3.3" text-anchor="end" font-weight="bold" fill="#111" >0</text>
<line x1="123.20" y1="225.29" x2="124.40" y2="225.29" stroke="#000" stroke-width="0.5" />
<text x="122.90" y="226.44" font-size="3.3" text-anchor="end" font-weight="bold" fill="#111" >20</text>
<line x1="123.20" y1="218.28" x2="124.40" y2="218.28" stroke="#000" stroke-width="0.5" />
<text x="122.90" y="219.43" font-size="3.3" text-anchor="end" font-weight="bold" fill="#111" >40</text>
<line x1="123.20" y1="211.27" x2="124.40" y2="211.27" stroke="#000" stroke-width="0.5" />
<text x="122.90" y="212.42" font-size="3.3" text-anchor="end" font-weight="bold" fill="#111" >60</text>
<line x1="123.20" y1="204.26" x2="124.40" y2="204.26" stroke="#000" stroke-width="0.5" />
<text x="122.90" y="205.41" font-size="3.3" text-anchor="end" font-weight="bold" fill="#111" >80</text>
<line x1="123.20" y1="197.25" x2="124.40" y2="197.25" stroke="#000" stroke-width="0.5" />
<text x="122.90" y="198.40" font-size="3.3" text-anchor="end" font-weight="bold" fill="#111" >100</text>
<line x1="127.80" y1="232.30" x2="127.80" y2="233.40" stroke="#000" stroke-width="0.5" />
<line x1="137.40" y1="232.30" x2="137.40" y2="233.40" stroke="#000" stroke-width="0.5" />
<line x1="141.98" y1="232.30" x2="141.98" y2="233.40" stroke="#000" stroke-width="0.5" />
<line x1="146.57" y1="232.30" x2="146.57" y2="233.40" stroke="#000" stroke-width="0.5" />
<line x1="151.15" y1="232.30" x2="151.15" y2="233.40" stroke="#000" stroke-width="0.5" />
<line x1="155.73" y1="232.30" x2="155.73" y2="233.40" stroke="#000" stroke-width="0.5" />
<line x1="160.32" y1="232.30" x2="160.32" y2="233.40" stroke="#000" stroke-width="0.5" />
<line x1="164.90" y1="232.30" x2="164.90" y2="233.40" stroke="#000" stroke-width="0.5" />
<line x1="174.07" y1="232.30" x2="174.07" y2="233.40" stroke="#000" stroke-width="0.5" />
<line x1="183.23" y1="232.30" x2="183.23" y2="233.40" stroke="#000" stroke-width="0.5" />
<line x1="192.40" y1="232.30" x2="192.40" y2="233.40" stroke="#000" stroke-width="0.5" />
<line x1="169.48" y1="232.30" x2="169.48" y2="233.40" stroke="#000" stroke-width="0.5" />
<line x1="178.65" y1="232.30" x2="178.65" y2="233.40" stroke="#000" stroke-width="0.5" />
<line x1="187.82" y1="232.30" x2="187.82" y2="233.40" stroke="#000" stroke-width="0.5" />
<text x="127.20" y="237.70" font-size="3.7" text-anchor="middle" font-weight="bold" fill="#111" >control</text>
<text x="137.60" y="237.70" font-size="3.7" text-anchor="middle" font-weight="bold" fill="#111" >1</text>
<text x="142.18" y="237.70" font-size="3.7" text-anchor="middle" font-weight="bold" fill="#111" >2</text>
<text x="146.77" y="237.70" font-size="3.7" text-anchor="middle" font-weight="bold" fill="#111" >3</text>
<text x="151.35" y="237.70" font-size="3.7" text-anchor="middle" font-weight="bold" fill="#111" >4</text>
<text x="155.93" y="237.70" font-size="3.7" text-anchor="middle" font-weight="bold" fill="#111" >5</text>
<text x="160.52" y="237.70" font-size="3.7" text-anchor="middle" font-weight="bold" fill="#111" >6</text>
<text x="165.10" y="237.70" font-size="3.7" text-anchor="middle" font-weight="bold" fill="#111" >7</text>
<text x="174.27" y="237.70" font-size="3.7" text-anchor="middle" font-weight="bold" fill="#111" >9</text>
<text x="183.43" y="237.70" font-size="3.7" text-anchor="middle" font-weight="bold" fill="#111" >11</text>
<text x="192.60" y="237.70" font-size="3.7" text-anchor="middle" font-weight="bold" fill="#111" >13</text>
<text x="163.50" y="242.50" font-size="3.7" text-anchor="middle" font-weight="normal" fill="#111" >DPI</text>
<polygon points="127.80,223.01 137.40,222.31 141.98,221.61 146.57,222.31 151.15,224.24 155.73,223.01 160.32,223.01 164.90,222.31 174.07,223.01 183.23,224.76 192.40,223.71 192.40,226.87 183.23,227.92 174.07,226.17 164.90,225.47 160.32,226.17 155.73,226.17 151.15,227.39 146.57,225.47 141.98,224.76 137.40,225.47 127.80,226.17" fill="#fadde2"/>
<line x1="146.57" y1="224.94" x2="146.57" y2="227.74" stroke="#333" stroke-width="0.4" />
<line x1="145.87" y1="224.94" x2="147.27" y2="224.94" stroke="#333" stroke-width="0.4" />
<line x1="145.87" y1="227.74" x2="147.27" y2="227.74" stroke="#333" stroke-width="0.4" />
<line x1="146.57" y1="222.49" x2="146.57" y2="225.29" stroke="#e0404a" stroke-width="0.4" />
<line x1="145.87" y1="222.49" x2="147.27" y2="222.49" stroke="#e0404a" stroke-width="0.4" />
<line x1="145.87" y1="225.29" x2="147.27" y2="225.29" stroke="#e0404a" stroke-width="0.4" />
<line x1="174.07" y1="223.19" x2="174.07" y2="225.99" stroke="#e0404a" stroke-width="0.4" />
<line x1="173.37" y1="223.19" x2="174.77" y2="223.19" stroke="#e0404a" stroke-width="0.4" />
<line x1="173.37" y1="225.99" x2="174.77" y2="225.99" stroke="#e0404a" stroke-width="0.4" />
<polyline points="127.80,226.69 137.40,225.82 141.98,226.34 146.57,226.34 151.15,227.39 155.73,224.59 160.32,226.69 164.90,225.82 174.07,225.82 183.23,226.69 192.40,227.39" fill="none" stroke="#111" stroke-width="0.7" stroke-linejoin="round" />
<circle cx="127.80" cy="226.69" r="0.9" fill="#111"/>
<circle cx="137.40" cy="225.82" r="0.9" fill="#111"/>
<circle cx="141.98" cy="226.34" r="0.9" fill="#111"/>
<circle cx="146.57" cy="226.34" r="0.9" fill="#111"/>
<circle cx="151.15" cy="227.39" r="0.9" fill="#111"/>
<circle cx="155.73" cy="224.59" r="0.9" fill="#111"/>
<circle cx="160.32" cy="226.69" r="0.9" fill="#111"/>
<circle cx="164.90" cy="225.82" r="0.9" fill="#111"/>
<circle cx="174.07" cy="225.82" r="0.9" fill="#111"/>
<circle cx="183.23" cy="226.69" r="0.9" fill="#111"/>
<circle cx="192.40" cy="227.39" r="0.9" fill="#111"/>
<polyline points="127.80,224.59 137.40,223.89 141.98,223.19 146.57,223.89 151.15,225.82 155.73,224.59 160.32,224.59 164.90,223.89 174.07,224.59 183.23,226.34 192.40,225.29" fill="none" stroke="#e0202a" stroke-width="0.7" stroke-linejoin="round" />
<circle cx="127.80" cy="224.59" r="0.9" fill="#e0202a"/>
<circle cx="137.40" cy="223.89" r="0.9" fill="#e0202a"/>
<circle cx="141.98" cy="223.19" r="0.9" fill="#e0202a"/>
<circle cx="146.57" cy="223.89" r="0.9" fill="#e0202a"/>
<circle cx="151.15" cy="225.82" r="0.9" fill="#e0202a"/>
<circle cx="155.73" cy="224.59" r="0.9" fill="#e0202a"/>
<circle cx="160.32" cy="224.59" r="0.9" fill="#e0202a"/>
<circle cx="164.90" cy="223.89" r="0.9" fill="#e0202a"/>
<circle cx="174.07" cy="224.59" r="0.9" fill="#e0202a"/>
<circle cx="183.23" cy="226.34" r="0.9" fill="#e0202a"/>
<circle cx="192.40" cy="225.29" r="0.9" fill="#e0202a"/>
<line x1="214.20" y1="197.20" x2="214.20" y2="232.30" stroke="#000" stroke-width="0.7" />
<line x1="214.20" y1="232.30" x2="284.20" y2="232.30" stroke="#000" stroke-width="0.7" />
<line x1="213.00" y1="232.30" x2="214.20" y2="232.30" stroke="#000" stroke-width="0.5" />
<text x="212.70" y="233.45" font-size="3.3" text-anchor="end" font-weight="bold" fill="#111" >0</text>
<line x1="213.00" y1="225.28" x2="214.20" y2="225.28" stroke="#000" stroke-width="0.5" />
<text x="212.70" y="226.43" font-size="3.3" text-anchor="end" font-weight="bold" fill="#111" >20</text>
<line x1="213.00" y1="218.26" x2="214.20" y2="218.26" stroke="#000" stroke-width="0.5" />
<text x="212.70" y="219.41" font-size="3.3" text-anchor="end" font-weight="bold" fill="#111" >40</text>
<line x1="213.00" y1="211.24" x2="214.20" y2="211.24" stroke="#000" stroke-width="0.5" />
<text x="212.70" y="212.39" font-size="3.3" text-anchor="end" font-weight="bold" fill="#111" >60</text>
<line x1="213.00" y1="204.22" x2="214.20" y2="204.22" stroke="#000" stroke-width="0.5" />
<text x="212.70" y="205.37" font-size="3.3" text-anchor="end" font-weight="bold" fill="#111" >80</text>
<line x1="213.00" y1="197.20" x2="214.20" y2="197.20" stroke="#000" stroke-width="0.5" />
<text x="212.70" y="198.35" font-size="3.3" text-anchor="end" font-weight="bold" fill="#111" >100</text>
<line x1="217.60" y1="232.30" x2="217.60" y2="233.40" stroke="#000" stroke-width="0.5" />
<line x1="226.40" y1="232.30" x2="226.40" y2="233.40" stroke="#000" stroke-width="0.5" />
<line x1="231.00" y1="232.30" x2="231.00" y2="233.40" stroke="#000" stroke-width="0.5" />
<line x1="235.60" y1="232.30" x2="235.60" y2="233.40" stroke="#000" stroke-width="0.5" />
<line x1="240.20" y1="232.30" x2="240.20" y2="233.40" stroke="#000" stroke-width="0.5" />
<line x1="244.80" y1="232.30" x2="244.80" y2="233.40" stroke="#000" stroke-width="0.5" />
<line x1="249.40" y1="232.30" x2="249.40" y2="233.40" stroke="#000" stroke-width="0.5" />
<line x1="254.00" y1="232.30" x2="254.00" y2="233.40" stroke="#000" stroke-width="0.5" />
<line x1="263.20" y1="232.30" x2="263.20" y2="233.40" stroke="#000" stroke-width="0.5" />
<line x1="272.40" y1="232.30" x2="272.40" y2="233.40" stroke="#000" stroke-width="0.5" />
<line x1="281.60" y1="232.30" x2="281.60" y2="233.40" stroke="#000" stroke-width="0.5" />
<line x1="258.60" y1="232.30" x2="258.60" y2="233.40" stroke="#000" stroke-width="0.5" />
<line x1="267.80" y1="232.30" x2="267.80" y2="233.40" stroke="#000" stroke-width="0.5" />
<line x1="277.00" y1="232.30" x2="277.00" y2="233.40" stroke="#000" stroke-width="0.5" />
<text x="217.00" y="237.70" font-size="3.7" text-anchor="middle" font-weight="bold" fill="#111" >control</text>
<text x="226.60" y="237.70" font-size="3.7" text-anchor="middle" font-weight="bold" fill="#111" >1</text>
<text x="231.20" y="237.70" font-size="3.7" text-anchor="middle" font-weight="bold" fill="#111" >2</text>
<text x="235.80" y="237.70" font-size="3.7" text-anchor="middle" font-weight="bold" fill="#111" >3</text>
<text x="240.40" y="237.70" font-size="3.7" text-anchor="middle" font-weight="bold" fill="#111" >4</text>
<text x="245.00" y="237.70" font-size="3.7" text-anchor="middle" font-weight="bold" fill="#111" >5</text>
<text x="249.60" y="237.70" font-size="3.7" text-anchor="middle" font-weight="bold" fill="#111" >6</text>
<text x="254.20" y="237.70" font-size="3.7" text-anchor="middle" font-weight="bold" fill="#111" >7</text>
<text x="263.40" y="237.70" font-size="3.7" text-anchor="middle" font-weight="bold" fill="#111" >9</text>
<text x="272.60" y="237.70" font-size="3.7" text-anchor="middle" font-weight="bold" fill="#111" >11</text>
<text x="281.80" y="237.70" font-size="3.7" text-anchor="middle" font-weight="bold" fill="#111" >13</text>
<text x="253.30" y="242.50" font-size="3.7" text-anchor="middle" font-weight="normal" fill="#111" >DPI</text>
<line x1="244.80" y1="220.44" x2="244.80" y2="223.24" stroke="#e0404a" stroke-width="0.4" />
<line x1="244.10" y1="220.44" x2="245.50" y2="220.44" stroke="#e0404a" stroke-width="0.4" />
<line x1="244.10" y1="223.24" x2="245.50" y2="223.24" stroke="#e0404a" stroke-width="0.4" />
<line x1="249.40" y1="219.07" x2="249.40" y2="222.58" stroke="#e0404a" stroke-width="0.4" />
<line x1="248.70" y1="219.07" x2="250.10" y2="219.07" stroke="#e0404a" stroke-width="0.4" />
<line x1="248.70" y1="222.58" x2="250.10" y2="222.58" stroke="#e0404a" stroke-width="0.4" />
<line x1="281.60" y1="220.86" x2="281.60" y2="223.67" stroke="#e0404a" stroke-width="0.4" />
<line x1="280.90" y1="220.86" x2="282.30" y2="220.86" stroke="#e0404a" stroke-width="0.4" />
<line x1="280.90" y1="223.67" x2="282.30" y2="223.67" stroke="#e0404a" stroke-width="0.4" />
<polyline points="217.60,224.58 226.40,226.86 231.00,226.86 235.60,225.28 240.20,225.28 244.80,225.63 249.40,225.63 254.00,227.74 263.20,226.86 272.40,226.44 281.60,225.98" fill="none" stroke="#111" stroke-width="0.7" stroke-linejoin="round" />
<circle cx="217.60" cy="224.58" r="0.9" fill="#111"/>
<circle cx="226.40" cy="226.86" r="0.9" fill="#111"/>
<circle cx="231.00" cy="226.86" r="0.9" fill="#111"/>
<circle cx="235.60" cy="225.28" r="0.9" fill="#111"/>
<circle cx="240.20" cy="225.28" r="0.9" fill="#111"/>
<circle cx="244.80" cy="225.63" r="0.9" fill="#111"/>
<circle cx="249.40" cy="225.63" r="0.9" fill="#111"/>
<circle cx="254.00" cy="227.74" r="0.9" fill="#111"/>
<circle cx="263.20" cy="226.86" r="0.9" fill="#111"/>
<circle cx="272.40" cy="226.44" r="0.9" fill="#111"/>
<circle cx="281.60" cy="225.98" r="0.9" fill="#111"/>
<polyline points="217.60,220.82 226.40,222.82 231.00,223.31 235.60,222.82 240.20,222.26 244.80,221.84 249.40,220.82 254.00,221.77 263.20,223.53 272.40,222.26 281.60,222.26" fill="none" stroke="#e0202a" stroke-width="0.7" stroke-linejoin="round" />
<circle cx="217.60" cy="220.82" r="0.9" fill="#e0202a"/>
<circle cx="226.40" cy="222.82" r="0.9" fill="#e0202a"/>
<circle cx="231.00" cy="223.31" r="0.9" fill="#e0202a"/>
<circle cx="235.60" cy="222.82" r="0.9" fill="#e0202a"/>
<circle cx="240.20" cy="222.26" r="0.9" fill="#e0202a"/>
<circle cx="244.80" cy="221.84" r="0.9" fill="#e0202a"/>
<circle cx="249.40" cy="220.82" r="0.9" fill="#e0202a"/>
<circle cx="254.00" cy="221.77" r="0.9" fill="#e0202a"/>
<circle cx="263.20" cy="223.53" r="0.9" fill="#e0202a"/>
<circle cx="272.40" cy="222.26" r="0.9" fill="#e0202a"/>
<circle cx="281.60" cy="222.26" r="0.9" fill="#e0202a"/>
<text transform="translate(28.78,263.75) rotate(-90)" font-size="4.6" font-weight="bold" text-anchor="middle" fill="#000">% live lymphocytes</text>
<line x1="40.40" y1="244.80" x2="40.40" y2="282.10" stroke="#000" stroke-width="0.7" />
<line x1="40.40" y1="282.10" x2="112.00" y2="282.10" stroke="#000" stroke-width="0.7" />
<line x1="39.20" y1="282.10" x2="40.40" y2="282.10" stroke="#000" stroke-width="0.5" />
<text x="38.90" y="283.25" font-size="3.3" text-anchor="end" font-weight="bold" fill="#111" >0</text>
<line x1="39.20" y1="274.64" x2="40.40" y2="274.64" stroke="#000" stroke-width="0.5" />
<text x="38.90" y="275.79" font-size="3.3" text-anchor="end" font-weight="bold" fill="#111" >20</text>
<line x1="39.20" y1="267.18" x2="40.40" y2="267.18" stroke="#000" stroke-width="0.5" />
<text x="38.90" y="268.33" font-size="3.3" text-anchor="end" font-weight="bold" fill="#111" >40</text>
<line x1="39.20" y1="259.72" x2="40.40" y2="259.72" stroke="#000" stroke-width="0.5" />
<text x="38.90" y="260.87" font-size="3.3" text-anchor="end" font-weight="bold" fill="#111" >60</text>
<line x1="39.20" y1="252.26" x2="40.40" y2="252.26" stroke="#000" stroke-width="0.5" />
<text x="38.90" y="253.41" font-size="3.3" text-anchor="end" font-weight="bold" fill="#111" >80</text>
<line x1="39.20" y1="244.80" x2="40.40" y2="244.80" stroke="#000" stroke-width="0.5" />
<text x="38.90" y="245.95" font-size="3.3" text-anchor="end" font-weight="bold" fill="#111" >100</text>
<line x1="43.80" y1="282.10" x2="43.80" y2="283.20" stroke="#000" stroke-width="0.5" />
<line x1="53.40" y1="282.10" x2="53.40" y2="283.20" stroke="#000" stroke-width="0.5" />
<line x1="58.11" y1="282.10" x2="58.11" y2="283.20" stroke="#000" stroke-width="0.5" />
<line x1="62.82" y1="282.10" x2="62.82" y2="283.20" stroke="#000" stroke-width="0.5" />
<line x1="67.53" y1="282.10" x2="67.53" y2="283.20" stroke="#000" stroke-width="0.5" />
<line x1="72.23" y1="282.10" x2="72.23" y2="283.20" stroke="#000" stroke-width="0.5" />
<line x1="76.94" y1="282.10" x2="76.94" y2="283.20" stroke="#000" stroke-width="0.5" />
<line x1="81.65" y1="282.10" x2="81.65" y2="283.20" stroke="#000" stroke-width="0.5" />
<line x1="91.07" y1="282.10" x2="91.07" y2="283.20" stroke="#000" stroke-width="0.5" />
<line x1="100.48" y1="282.10" x2="100.48" y2="283.20" stroke="#000" stroke-width="0.5" />
<line x1="109.90" y1="282.10" x2="109.90" y2="283.20" stroke="#000" stroke-width="0.5" />
<line x1="86.36" y1="282.10" x2="86.36" y2="283.20" stroke="#000" stroke-width="0.5" />
<line x1="95.78" y1="282.10" x2="95.78" y2="283.20" stroke="#000" stroke-width="0.5" />
<line x1="105.19" y1="282.10" x2="105.19" y2="283.20" stroke="#000" stroke-width="0.5" />
<text x="43.20" y="288.70" font-size="4.3" text-anchor="middle" font-weight="bold" fill="#111" >control</text>
<text x="53.60" y="288.70" font-size="4.3" text-anchor="middle" font-weight="bold" fill="#111" >1</text>
<text x="58.31" y="288.70" font-size="4.3" text-anchor="middle" font-weight="bold" fill="#111" >2</text>
<text x="63.02" y="288.70" font-size="4.3" text-anchor="middle" font-weight="bold" fill="#111" >3</text>
<text x="67.73" y="288.70" font-size="4.3" text-anchor="middle" font-weight="bold" fill="#111" >4</text>
<text x="72.43" y="288.70" font-size="4.3" text-anchor="middle" font-weight="bold" fill="#111" >5</text>
<text x="77.14" y="288.70" font-size="4.3" text-anchor="middle" font-weight="bold" fill="#111" >6</text>
<text x="81.85" y="288.70" font-size="4.3" text-anchor="middle" font-weight="bold" fill="#111" >7</text>
<text x="91.27" y="288.70" font-size="4.3" text-anchor="middle" font-weight="bold" fill="#111" >9</text>
<text x="100.68" y="288.70" font-size="4.3" text-anchor="middle" font-weight="bold" fill="#111" >11</text>
<text x="110.10" y="288.70" font-size="4.3" text-anchor="middle" font-weight="bold" fill="#111" >13</text>
<text x="78.30" y="292.90" font-size="4.3" text-anchor="middle" font-weight="normal" fill="#111" >DPI</text>
<polygon points="43.80,279.19 53.40,280.24 58.11,280.24 62.82,278.56 67.53,278.18 72.23,278.56 76.94,278.56 81.65,278.56 91.07,277.81 100.48,278.18 109.90,277.81 109.90,281.17 100.48,281.54 91.07,281.17 81.65,281.91 76.94,281.91 72.23,281.91 67.53,281.54 62.82,281.91 58.11,282.10 53.40,282.10 43.80,282.10" fill="#fadde2"/>
<line x1="62.82" y1="273.89" x2="62.82" y2="276.13" stroke="#333" stroke-width="0.4" />
<line x1="62.12" y1="273.89" x2="63.52" y2="273.89" stroke="#333" stroke-width="0.4" />
<line x1="62.12" y1="276.13" x2="63.52" y2="276.13" stroke="#333" stroke-width="0.4" />
<polyline points="43.80,276.21 53.40,277.44 58.11,275.39 62.82,275.01 67.53,277.44 72.23,274.27 76.94,276.88 81.65,274.79 91.07,278.85 100.48,275.80 109.90,277.85" fill="none" stroke="#111" stroke-width="0.7" stroke-linejoin="round" />
<circle cx="43.80" cy="276.21" r="0.9" fill="#111"/>
<circle cx="53.40" cy="277.44" r="0.9" fill="#111"/>
<circle cx="58.11" cy="275.39" r="0.9" fill="#111"/>
<circle cx="62.82" cy="275.01" r="0.9" fill="#111"/>
<circle cx="67.53" cy="277.44" r="0.9" fill="#111"/>
<circle cx="72.23" cy="274.27" r="0.9" fill="#111"/>
<circle cx="76.94" cy="276.88" r="0.9" fill="#111"/>
<circle cx="81.65" cy="274.79" r="0.9" fill="#111"/>
<circle cx="91.07" cy="278.85" r="0.9" fill="#111"/>
<circle cx="100.48" cy="275.80" r="0.9" fill="#111"/>
<circle cx="109.90" cy="277.85" r="0.9" fill="#111"/>
<polyline points="43.80,280.87 53.40,281.91 58.11,281.91 62.82,280.24 67.53,279.86 72.23,280.24 76.94,280.24 81.65,280.24 91.07,279.49 100.48,279.86 109.90,279.49" fill="none" stroke="#e0202a" stroke-width="0.7" stroke-linejoin="round" />
<circle cx="43.80" cy="280.87" r="0.9" fill="#e0202a"/>
<circle cx="53.40" cy="281.91" r="0.9" fill="#e0202a"/>
<circle cx="58.11" cy="281.91" r="0.9" fill="#e0202a"/>
<circle cx="62.82" cy="280.24" r="0.9" fill="#e0202a"/>
<circle cx="67.53" cy="279.86" r="0.9" fill="#e0202a"/>
<circle cx="72.23" cy="280.24" r="0.9" fill="#e0202a"/>
<circle cx="76.94" cy="280.24" r="0.9" fill="#e0202a"/>
<circle cx="81.65" cy="280.24" r="0.9" fill="#e0202a"/>
<circle cx="91.07" cy="279.49" r="0.9" fill="#e0202a"/>
<circle cx="100.48" cy="279.86" r="0.9" fill="#e0202a"/>
<circle cx="109.90" cy="279.49" r="0.9" fill="#e0202a"/>
<line x1="128.00" y1="247.50" x2="128.00" y2="282.40" stroke="#000" stroke-width="0.7" />
<line x1="128.00" y1="282.40" x2="198.50" y2="282.40" stroke="#000" stroke-width="0.7" />
<line x1="126.80" y1="282.40" x2="128.00" y2="282.40" stroke="#000" stroke-width="0.5" />
<text x="126.50" y="283.55" font-size="3.3" text-anchor="end" font-weight="bold" fill="#111" >0</text>
<line x1="126.80" y1="275.42" x2="128.00" y2="275.42" stroke="#000" stroke-width="0.5" />
<text x="126.50" y="276.57" font-size="3.3" text-anchor="end" font-weight="bold" fill="#111" >20</text>
<line x1="126.80" y1="268.44" x2="128.00" y2="268.44" stroke="#000" stroke-width="0.5" />
<text x="126.50" y="269.59" font-size="3.3" text-anchor="end" font-weight="bold" fill="#111" >40</text>
<line x1="126.80" y1="261.46" x2="128.00" y2="261.46" stroke="#000" stroke-width="0.5" />
<text x="126.50" y="262.61" font-size="3.3" text-anchor="end" font-weight="bold" fill="#111" >60</text>
<line x1="126.80" y1="254.48" x2="128.00" y2="254.48" stroke="#000" stroke-width="0.5" />
<text x="126.50" y="255.63" font-size="3.3" text-anchor="end" font-weight="bold" fill="#111" >80</text>
<line x1="126.80" y1="247.50" x2="128.00" y2="247.50" stroke="#000" stroke-width="0.5" />
<text x="126.50" y="248.65" font-size="3.3" text-anchor="end" font-weight="bold" fill="#111" >100</text>
<line x1="131.40" y1="282.40" x2="131.40" y2="283.50" stroke="#000" stroke-width="0.5" />
<line x1="140.50" y1="282.40" x2="140.50" y2="283.50" stroke="#000" stroke-width="0.5" />
<line x1="145.08" y1="282.40" x2="145.08" y2="283.50" stroke="#000" stroke-width="0.5" />
<line x1="149.67" y1="282.40" x2="149.67" y2="283.50" stroke="#000" stroke-width="0.5" />
<line x1="154.25" y1="282.40" x2="154.25" y2="283.50" stroke="#000" stroke-width="0.5" />
<line x1="158.83" y1="282.40" x2="158.83" y2="283.50" stroke="#000" stroke-width="0.5" />
<line x1="163.42" y1="282.40" x2="163.42" y2="283.50" stroke="#000" stroke-width="0.5" />
<line x1="168.00" y1="282.40" x2="168.00" y2="283.50" stroke="#000" stroke-width="0.5" />
<line x1="177.17" y1="282.40" x2="177.17" y2="283.50" stroke="#000" stroke-width="0.5" />
<line x1="186.33" y1="282.40" x2="186.33" y2="283.50" stroke="#000" stroke-width="0.5" />
<line x1="195.50" y1="282.40" x2="195.50" y2="283.50" stroke="#000" stroke-width="0.5" />
<line x1="172.58" y1="282.40" x2="172.58" y2="283.50" stroke="#000" stroke-width="0.5" />
<line x1="181.75" y1="282.40" x2="181.75" y2="283.50" stroke="#000" stroke-width="0.5" />
<line x1="190.92" y1="282.40" x2="190.92" y2="283.50" stroke="#000" stroke-width="0.5" />
<text x="130.80" y="289.00" font-size="4.3" text-anchor="middle" font-weight="bold" fill="#111" >control</text>
<text x="140.70" y="289.00" font-size="4.3" text-anchor="middle" font-weight="bold" fill="#111" >1</text>
<text x="145.28" y="289.00" font-size="4.3" text-anchor="middle" font-weight="bold" fill="#111" >2</text>
<text x="149.87" y="289.00" font-size="4.3" text-anchor="middle" font-weight="bold" fill="#111" >3</text>
<text x="154.45" y="289.00" font-size="4.3" text-anchor="middle" font-weight="bold" fill="#111" >4</text>
<text x="159.03" y="289.00" font-size="4.3" text-anchor="middle" font-weight="bold" fill="#111" >5</text>
<text x="163.62" y="289.00" font-size="4.3" text-anchor="middle" font-weight="bold" fill="#111" >6</text>
<text x="168.20" y="289.00" font-size="4.3" text-anchor="middle" font-weight="bold" fill="#111" >7</text>
<text x="177.37" y="289.00" font-size="4.3" text-anchor="middle" font-weight="bold" fill="#111" >9</text>
<text x="186.53" y="289.00" font-size="4.3" text-anchor="middle" font-weight="bold" fill="#111" >11</text>
<text x="195.70" y="289.00" font-size="4.3" text-anchor="middle" font-weight="bold" fill="#111" >13</text>
<text x="167.10" y="293.20" font-size="4.3" text-anchor="middle" font-weight="normal" fill="#111" >DPI</text>
<polygon points="131.40,277.79 140.50,278.39 145.08,277.79 149.67,277.79 154.25,278.39 158.83,277.79 163.42,278.39 168.00,277.79 177.17,278.74 186.33,278.39 195.50,277.79 195.50,280.93 186.33,281.53 177.17,281.88 168.00,280.93 163.42,281.53 158.83,280.93 154.25,281.53 149.67,280.93 145.08,280.93 140.50,281.53 131.40,280.93" fill="#fadde2"/>
<line x1="149.67" y1="276.64" x2="149.67" y2="279.43" stroke="#333" stroke-width="0.4" />
<line x1="148.97" y1="276.64" x2="150.37" y2="276.64" stroke="#333" stroke-width="0.4" />
<line x1="148.97" y1="279.43" x2="150.37" y2="279.43" stroke="#333" stroke-width="0.4" />
<polyline points="131.40,276.89 140.50,279.96 145.08,276.89 149.67,278.04 154.25,278.04 158.83,278.04 163.42,279.36 168.00,275.07 177.17,279.96 186.33,275.07 195.50,276.89" fill="none" stroke="#111" stroke-width="0.7" stroke-linejoin="round" />
<circle cx="131.40" cy="276.89" r="0.9" fill="#111"/>
<circle cx="140.50" cy="279.96" r="0.9" fill="#111"/>
<circle cx="145.08" cy="276.89" r="0.9" fill="#111"/>
<circle cx="149.67" cy="278.04" r="0.9" fill="#111"/>
<circle cx="154.25" cy="278.04" r="0.9" fill="#111"/>
<circle cx="158.83" cy="278.04" r="0.9" fill="#111"/>
<circle cx="163.42" cy="279.36" r="0.9" fill="#111"/>
<circle cx="168.00" cy="275.07" r="0.9" fill="#111"/>
<circle cx="177.17" cy="279.96" r="0.9" fill="#111"/>
<circle cx="186.33" cy="275.07" r="0.9" fill="#111"/>
<circle cx="195.50" cy="276.89" r="0.9" fill="#111"/>
<polyline points="131.40,279.36 140.50,279.96 145.08,279.36 149.67,279.36 154.25,279.96 158.83,279.36 163.42,279.96 168.00,279.36 177.17,280.31 186.33,279.96 195.50,279.36" fill="none" stroke="#e0202a" stroke-width="0.7" stroke-linejoin="round" />
<circle cx="131.40" cy="279.36" r="0.9" fill="#e0202a"/>
<circle cx="140.50" cy="279.96" r="0.9" fill="#e0202a"/>
<circle cx="145.08" cy="279.36" r="0.9" fill="#e0202a"/>
<circle cx="149.67" cy="279.36" r="0.9" fill="#e0202a"/>
<circle cx="154.25" cy="279.96" r="0.9" fill="#e0202a"/>
<circle cx="158.83" cy="279.36" r="0.9" fill="#e0202a"/>
<circle cx="163.42" cy="279.96" r="0.9" fill="#e0202a"/>
<circle cx="168.00" cy="279.36" r="0.9" fill="#e0202a"/>
<circle cx="177.17" cy="280.31" r="0.9" fill="#e0202a"/>
<circle cx="186.33" cy="279.96" r="0.9" fill="#e0202a"/>
<circle cx="195.50" cy="279.36" r="0.9" fill="#e0202a"/>
<line x1="214.50" y1="247.60" x2="214.50" y2="282.30" stroke="#000" stroke-width="0.7" />
<line x1="214.50" y1="282.30" x2="285.40" y2="282.30" stroke="#000" stroke-width="0.7" />
<line x1="213.30" y1="282.30" x2="214.50" y2="282.30" stroke="#000" stroke-width="0.5" />
<text x="213.00" y="283.45" font-size="3.3" text-anchor="end" font-weight="bold" fill="#111" >0</text>
<line x1="213.30" y1="275.36" x2="214.50" y2="275.36" stroke="#000" stroke-width="0.5" />
<text x="213.00" y="276.51" font-size="3.3" text-anchor="end" font-weight="bold" fill="#111" >20</text>
<line x1="213.30" y1="268.42" x2="214.50" y2="268.42" stroke="#000" stroke-width="0.5" />
<text x="213.00" y="269.57" font-size="3.3" text-anchor="end" font-weight="bold" fill="#111" >40</text>
<line x1="213.30" y1="261.48" x2="214.50" y2="261.48" stroke="#000" stroke-width="0.5" />
<text x="213.00" y="262.63" font-size="3.3" text-anchor="end" font-weight="bold" fill="#111" >60</text>
<line x1="213.30" y1="254.54" x2="214.50" y2="254.54" stroke="#000" stroke-width="0.5" />
<text x="213.00" y="255.69" font-size="3.3" text-anchor="end" font-weight="bold" fill="#111" >80</text>
<line x1="213.30" y1="247.60" x2="214.50" y2="247.60" stroke="#000" stroke-width="0.5" />
<text x="213.00" y="248.75" font-size="3.3" text-anchor="end" font-weight="bold" fill="#111" >100</text>
<line x1="217.90" y1="282.30" x2="217.90" y2="283.40" stroke="#000" stroke-width="0.5" />
<line x1="227.50" y1="282.30" x2="227.50" y2="283.40" stroke="#000" stroke-width="0.5" />
<line x1="232.07" y1="282.30" x2="232.07" y2="283.40" stroke="#000" stroke-width="0.5" />
<line x1="236.65" y1="282.30" x2="236.65" y2="283.40" stroke="#000" stroke-width="0.5" />
<line x1="241.22" y1="282.30" x2="241.22" y2="283.40" stroke="#000" stroke-width="0.5" />
<line x1="245.80" y1="282.30" x2="245.80" y2="283.40" stroke="#000" stroke-width="0.5" />
<line x1="250.38" y1="282.30" x2="250.38" y2="283.40" stroke="#000" stroke-width="0.5" />
<line x1="254.95" y1="282.30" x2="254.95" y2="283.40" stroke="#000" stroke-width="0.5" />
<line x1="264.10" y1="282.30" x2="264.10" y2="283.40" stroke="#000" stroke-width="0.5" />
<line x1="273.25" y1="282.30" x2="273.25" y2="283.40" stroke="#000" stroke-width="0.5" />
<line x1="282.40" y1="282.30" x2="282.40" y2="283.40" stroke="#000" stroke-width="0.5" />
<line x1="259.52" y1="282.30" x2="259.52" y2="283.40" stroke="#000" stroke-width="0.5" />
<line x1="268.67" y1="282.30" x2="268.67" y2="283.40" stroke="#000" stroke-width="0.5" />
<line x1="277.82" y1="282.30" x2="277.82" y2="283.40" stroke="#000" stroke-width="0.5" />
<text x="217.30" y="288.90" font-size="4.3" text-anchor="middle" font-weight="bold" fill="#111" >control</text>
<text x="227.70" y="288.90" font-size="4.3" text-anchor="middle" font-weight="bold" fill="#111" >1</text>
<text x="232.27" y="288.90" font-size="4.3" text-anchor="middle" font-weight="bold" fill="#111" >2</text>
<text x="236.85" y="288.90" font-size="4.3" text-anchor="middle" font-weight="bold" fill="#111" >3</text>
<text x="241.42" y="288.90" font-size="4.3" text-anchor="middle" font-weight="bold" fill="#111" >4</text>
<text x="246.00" y="288.90" font-size="4.3" text-anchor="middle" font-weight="bold" fill="#111" >5</text>
<text x="250.57" y="288.90" font-size="4.3" text-anchor="middle" font-weight="bold" fill="#111" >6</text>
<text x="255.15" y="288.90" font-size="4.3" text-anchor="middle" font-weight="bold" fill="#111" >7</text>
<text x="264.30" y="288.90" font-size="4.3" text-anchor="middle" font-weight="bold" fill="#111" >9</text>
<text x="273.45" y="288.90" font-size="4.3" text-anchor="middle" font-weight="bold" fill="#111" >11</text>
<text x="282.60" y="288.90" font-size="4.3" text-anchor="middle" font-weight="bold" fill="#111" >13</text>
<text x="253.60" y="293.10" font-size="4.3" text-anchor="middle" font-weight="normal" fill="#111" >DPI</text>
<line x1="264.10" y1="271.89" x2="264.10" y2="275.36" stroke="#e0404a" stroke-width="0.4" />
<line x1="263.40" y1="271.89" x2="264.80" y2="271.89" stroke="#e0404a" stroke-width="0.4" />
<line x1="263.40" y1="275.36" x2="264.80" y2="275.36" stroke="#e0404a" stroke-width="0.4" />
<line x1="282.40" y1="269.81" x2="282.40" y2="273.28" stroke="#333" stroke-width="0.4" />
<line x1="281.70" y1="269.81" x2="283.10" y2="269.81" stroke="#333" stroke-width="0.4" />
<line x1="281.70" y1="273.28" x2="283.10" y2="273.28" stroke="#333" stroke-width="0.4" />
<line x1="282.40" y1="264.95" x2="282.40" y2="267.73" stroke="#e0404a" stroke-width="0.4" />
<line x1="281.70" y1="264.95" x2="283.10" y2="264.95" stroke="#e0404a" stroke-width="0.4" />
<line x1="281.70" y1="267.73" x2="283.10" y2="267.73" stroke="#e0404a" stroke-width="0.4" />
<polyline points="217.90,269.81 227.50,268.42 232.07,271.54 236.65,267.73 241.22,270.50 245.80,273.28 250.38,268.42 254.95,273.28 264.10,268.42 273.25,268.77 282.40,271.54" fill="none" stroke="#111" stroke-width="0.7" stroke-linejoin="round" />
<circle cx="217.90" cy="269.81" r="0.9" fill="#111"/>
<circle cx="227.50" cy="268.42" r="0.9" fill="#111"/>
<circle cx="232.07" cy="271.54" r="0.9" fill="#111"/>
<circle cx="236.65" cy="267.73" r="0.9" fill="#111"/>
<circle cx="241.22" cy="270.50" r="0.9" fill="#111"/>
<circle cx="245.80" cy="273.28" r="0.9" fill="#111"/>
<circle cx="250.38" cy="268.42" r="0.9" fill="#111"/>
<circle cx="254.95" cy="273.28" r="0.9" fill="#111"/>
<circle cx="264.10" cy="268.42" r="0.9" fill="#111"/>
<circle cx="273.25" cy="268.77" r="0.9" fill="#111"/>
<circle cx="282.40" cy="271.54" r="0.9" fill="#111"/>
<polyline points="217.90,264.26 227.50,256.62 232.07,260.79 236.65,268.42 241.22,268.42 245.80,264.26 250.38,265.99 254.95,268.42 264.10,273.62 273.25,269.11 282.40,266.34" fill="none" stroke="#e0202a" stroke-width="0.7" stroke-linejoin="round" />
<circle cx="217.90" cy="264.26" r="0.9" fill="#e0202a"/>
<circle cx="227.50" cy="256.62" r="0.9" fill="#e0202a"/>
<circle cx="232.07" cy="260.79" r="0.9" fill="#e0202a"/>
<circle cx="236.65" cy="268.42" r="0.9" fill="#e0202a"/>
<circle cx="241.22" cy="268.42" r="0.9" fill="#e0202a"/>
<circle cx="245.80" cy="264.26" r="0.9" fill="#e0202a"/>
<circle cx="250.38" cy="265.99" r="0.9" fill="#e0202a"/>
<circle cx="254.95" cy="268.42" r="0.9" fill="#e0202a"/>
<circle cx="264.10" cy="273.62" r="0.9" fill="#e0202a"/>
<circle cx="273.25" cy="269.11" r="0.9" fill="#e0202a"/>
<circle cx="282.40" cy="266.34" r="0.9" fill="#e0202a"/>
<text transform="translate(28.78,319.65) rotate(-90)" font-size="4.4" font-weight="bold" text-anchor="middle" fill="#000">% live lymphocytes</text>
<line x1="40.40" y1="301.20" x2="40.40" y2="337.50" stroke="#000" stroke-width="0.7" />
<line x1="40.40" y1="337.50" x2="113.90" y2="337.50" stroke="#000" stroke-width="0.7" />
<line x1="39.20" y1="337.50" x2="40.40" y2="337.50" stroke="#000" stroke-width="0.5" />
<text x="38.90" y="338.65" font-size="3.3" text-anchor="end" font-weight="bold" fill="#111" >0</text>
<line x1="39.20" y1="330.24" x2="40.40" y2="330.24" stroke="#000" stroke-width="0.5" />
<text x="38.90" y="331.39" font-size="3.3" text-anchor="end" font-weight="bold" fill="#111" >20</text>
<line x1="39.20" y1="322.98" x2="40.40" y2="322.98" stroke="#000" stroke-width="0.5" />
<text x="38.90" y="324.13" font-size="3.3" text-anchor="end" font-weight="bold" fill="#111" >40</text>
<line x1="39.20" y1="315.72" x2="40.40" y2="315.72" stroke="#000" stroke-width="0.5" />
<text x="38.90" y="316.87" font-size="3.3" text-anchor="end" font-weight="bold" fill="#111" >60</text>
<line x1="39.20" y1="308.46" x2="40.40" y2="308.46" stroke="#000" stroke-width="0.5" />
<text x="38.90" y="309.61" font-size="3.3" text-anchor="end" font-weight="bold" fill="#111" >80</text>
<line x1="39.20" y1="301.20" x2="40.40" y2="301.20" stroke="#000" stroke-width="0.5" />
<text x="38.90" y="302.35" font-size="3.3" text-anchor="end" font-weight="bold" fill="#111" >100</text>
<line x1="43.80" y1="337.50" x2="43.80" y2="338.60" stroke="#000" stroke-width="0.5" />
<line x1="52.70" y1="337.50" x2="52.70" y2="338.60" stroke="#000" stroke-width="0.5" />
<line x1="57.51" y1="337.50" x2="57.51" y2="338.60" stroke="#000" stroke-width="0.5" />
<line x1="62.32" y1="337.50" x2="62.32" y2="338.60" stroke="#000" stroke-width="0.5" />
<line x1="67.12" y1="337.50" x2="67.12" y2="338.60" stroke="#000" stroke-width="0.5" />
<line x1="71.93" y1="337.50" x2="71.93" y2="338.60" stroke="#000" stroke-width="0.5" />
<line x1="76.74" y1="337.50" x2="76.74" y2="338.60" stroke="#000" stroke-width="0.5" />
<line x1="81.55" y1="337.50" x2="81.55" y2="338.60" stroke="#000" stroke-width="0.5" />
<line x1="91.17" y1="337.50" x2="91.17" y2="338.60" stroke="#000" stroke-width="0.5" />
<line x1="100.78" y1="337.50" x2="100.78" y2="338.60" stroke="#000" stroke-width="0.5" />
<line x1="110.40" y1="337.50" x2="110.40" y2="338.60" stroke="#000" stroke-width="0.5" />
<line x1="86.36" y1="337.50" x2="86.36" y2="338.60" stroke="#000" stroke-width="0.5" />
<line x1="95.98" y1="337.50" x2="95.98" y2="338.60" stroke="#000" stroke-width="0.5" />
<line x1="105.59" y1="337.50" x2="105.59" y2="338.60" stroke="#000" stroke-width="0.5" />
<text x="43.20" y="343.50" font-size="4.1" text-anchor="middle" font-weight="bold" fill="#111" >control</text>
<text x="52.90" y="343.50" font-size="4.1" text-anchor="middle" font-weight="bold" fill="#111" >1</text>
<text x="57.71" y="343.50" font-size="4.1" text-anchor="middle" font-weight="bold" fill="#111" >2</text>
<text x="62.52" y="343.50" font-size="4.1" text-anchor="middle" font-weight="bold" fill="#111" >3</text>
<text x="67.33" y="343.50" font-size="4.1" text-anchor="middle" font-weight="bold" fill="#111" >4</text>
<text x="72.13" y="343.50" font-size="4.1" text-anchor="middle" font-weight="bold" fill="#111" >5</text>
<text x="76.94" y="343.50" font-size="4.1" text-anchor="middle" font-weight="bold" fill="#111" >6</text>
<text x="81.75" y="343.50" font-size="4.1" text-anchor="middle" font-weight="bold" fill="#111" >7</text>
<text x="91.37" y="343.50" font-size="4.1" text-anchor="middle" font-weight="bold" fill="#111" >9</text>
<text x="100.98" y="343.50" font-size="4.1" text-anchor="middle" font-weight="bold" fill="#111" >11</text>
<text x="110.60" y="343.50" font-size="4.1" text-anchor="middle" font-weight="bold" fill="#111" >13</text>
<text x="78.30" y="347.70" font-size="4.1" text-anchor="middle" font-weight="normal" fill="#111" >DPI</text>
<polygon points="43.80,333.07 52.70,332.96 57.51,332.78 62.32,332.78 67.12,332.60 71.93,332.60 76.74,332.78 81.55,332.60 91.17,332.60 100.78,332.60 110.40,332.42 110.40,335.69 100.78,335.87 91.17,335.87 81.55,335.87 76.74,336.05 71.93,335.87 67.12,335.87 62.32,336.05 57.51,336.05 52.70,336.23 43.80,336.34" fill="#fadde2"/>
<line x1="67.12" y1="332.60" x2="67.12" y2="335.50" stroke="#333" stroke-width="0.4" />
<line x1="66.42" y1="332.60" x2="67.83" y2="332.60" stroke="#333" stroke-width="0.4" />
<line x1="66.42" y1="335.50" x2="67.83" y2="335.50" stroke="#333" stroke-width="0.4" />
<line x1="67.12" y1="333.14" x2="67.12" y2="335.32" stroke="#e0404a" stroke-width="0.4" />
<line x1="66.42" y1="333.14" x2="67.83" y2="333.14" stroke="#e0404a" stroke-width="0.4" />
<line x1="66.42" y1="335.32" x2="67.83" y2="335.32" stroke="#e0404a" stroke-width="0.4" />
<polyline points="43.80,334.23 52.70,334.70 57.51,334.70 62.32,334.23 67.12,334.05 71.93,334.05 76.74,334.41 81.55,334.05 91.17,334.05 100.78,334.23 110.40,333.87" fill="none" stroke="#111" stroke-width="0.7" stroke-linejoin="round" />
<circle cx="43.80" cy="334.23" r="0.9" fill="#111"/>
<circle cx="52.70" cy="334.70" r="0.9" fill="#111"/>
<circle cx="57.51" cy="334.70" r="0.9" fill="#111"/>
<circle cx="62.32" cy="334.23" r="0.9" fill="#111"/>
<circle cx="67.12" cy="334.05" r="0.9" fill="#111"/>
<circle cx="71.93" cy="334.05" r="0.9" fill="#111"/>
<circle cx="76.74" cy="334.41" r="0.9" fill="#111"/>
<circle cx="81.55" cy="334.05" r="0.9" fill="#111"/>
<circle cx="91.17" cy="334.05" r="0.9" fill="#111"/>
<circle cx="100.78" cy="334.23" r="0.9" fill="#111"/>
<circle cx="110.40" cy="333.87" r="0.9" fill="#111"/>
<polyline points="43.80,334.70 52.70,334.60 57.51,334.41 62.32,334.41 67.12,334.23 71.93,334.23 76.74,334.41 81.55,334.23 91.17,334.23 100.78,334.23 110.40,334.05" fill="none" stroke="#e0202a" stroke-width="0.7" stroke-linejoin="round" />
<circle cx="43.80" cy="334.70" r="0.9" fill="#e0202a"/>
<circle cx="52.70" cy="334.60" r="0.9" fill="#e0202a"/>
<circle cx="57.51" cy="334.41" r="0.9" fill="#e0202a"/>
<circle cx="62.32" cy="334.41" r="0.9" fill="#e0202a"/>
<circle cx="67.12" cy="334.23" r="0.9" fill="#e0202a"/>
<circle cx="71.93" cy="334.23" r="0.9" fill="#e0202a"/>
<circle cx="76.74" cy="334.41" r="0.9" fill="#e0202a"/>
<circle cx="81.55" cy="334.23" r="0.9" fill="#e0202a"/>
<circle cx="91.17" cy="334.23" r="0.9" fill="#e0202a"/>
<circle cx="100.78" cy="334.23" r="0.9" fill="#e0202a"/>
<circle cx="110.40" cy="334.05" r="0.9" fill="#e0202a"/>
<line x1="127.50" y1="301.20" x2="127.50" y2="337.60" stroke="#000" stroke-width="0.7" />
<line x1="127.50" y1="337.60" x2="200.90" y2="337.60" stroke="#000" stroke-width="0.7" />
<line x1="126.30" y1="337.60" x2="127.50" y2="337.60" stroke="#000" stroke-width="0.5" />
<text x="126.00" y="338.75" font-size="3.3" text-anchor="end" font-weight="bold" fill="#111" >0</text>
<line x1="126.30" y1="330.32" x2="127.50" y2="330.32" stroke="#000" stroke-width="0.5" />
<text x="126.00" y="331.47" font-size="3.3" text-anchor="end" font-weight="bold" fill="#111" >20</text>
<line x1="126.30" y1="323.04" x2="127.50" y2="323.04" stroke="#000" stroke-width="0.5" />
<text x="126.00" y="324.19" font-size="3.3" text-anchor="end" font-weight="bold" fill="#111" >40</text>
<line x1="126.30" y1="315.76" x2="127.50" y2="315.76" stroke="#000" stroke-width="0.5" />
<text x="126.00" y="316.91" font-size="3.3" text-anchor="end" font-weight="bold" fill="#111" >60</text>
<line x1="126.30" y1="308.48" x2="127.50" y2="308.48" stroke="#000" stroke-width="0.5" />
<text x="126.00" y="309.63" font-size="3.3" text-anchor="end" font-weight="bold" fill="#111" >80</text>
<line x1="126.30" y1="301.20" x2="127.50" y2="301.20" stroke="#000" stroke-width="0.5" />
<text x="126.00" y="302.35" font-size="3.3" text-anchor="end" font-weight="bold" fill="#111" >100</text>
<line x1="130.90" y1="337.60" x2="130.90" y2="338.70" stroke="#000" stroke-width="0.5" />
<line x1="140.00" y1="337.60" x2="140.00" y2="338.70" stroke="#000" stroke-width="0.5" />
<line x1="144.78" y1="337.60" x2="144.78" y2="338.70" stroke="#000" stroke-width="0.5" />
<line x1="149.57" y1="337.60" x2="149.57" y2="338.70" stroke="#000" stroke-width="0.5" />
<line x1="154.35" y1="337.60" x2="154.35" y2="338.70" stroke="#000" stroke-width="0.5" />
<line x1="159.13" y1="337.60" x2="159.13" y2="338.70" stroke="#000" stroke-width="0.5" />
<line x1="163.92" y1="337.60" x2="163.92" y2="338.70" stroke="#000" stroke-width="0.5" />
<line x1="168.70" y1="337.60" x2="168.70" y2="338.70" stroke="#000" stroke-width="0.5" />
<line x1="178.27" y1="337.60" x2="178.27" y2="338.70" stroke="#000" stroke-width="0.5" />
<line x1="187.83" y1="337.60" x2="187.83" y2="338.70" stroke="#000" stroke-width="0.5" />
<line x1="197.40" y1="337.60" x2="197.40" y2="338.70" stroke="#000" stroke-width="0.5" />
<line x1="173.48" y1="337.60" x2="173.48" y2="338.70" stroke="#000" stroke-width="0.5" />
<line x1="183.05" y1="337.60" x2="183.05" y2="338.70" stroke="#000" stroke-width="0.5" />
<line x1="192.62" y1="337.60" x2="192.62" y2="338.70" stroke="#000" stroke-width="0.5" />
<text x="130.30" y="343.60" font-size="4.1" text-anchor="middle" font-weight="bold" fill="#111" >control</text>
<text x="140.20" y="343.60" font-size="4.1" text-anchor="middle" font-weight="bold" fill="#111" >1</text>
<text x="144.98" y="343.60" font-size="4.1" text-anchor="middle" font-weight="bold" fill="#111" >2</text>
<text x="149.77" y="343.60" font-size="4.1" text-anchor="middle" font-weight="bold" fill="#111" >3</text>
<text x="154.55" y="343.60" font-size="4.1" text-anchor="middle" font-weight="bold" fill="#111" >4</text>
<text x="159.33" y="343.60" font-size="4.1" text-anchor="middle" font-weight="bold" fill="#111" >5</text>
<text x="164.12" y="343.60" font-size="4.1" text-anchor="middle" font-weight="bold" fill="#111" >6</text>
<text x="168.90" y="343.60" font-size="4.1" text-anchor="middle" font-weight="bold" fill="#111" >7</text>
<text x="178.47" y="343.60" font-size="4.1" text-anchor="middle" font-weight="bold" fill="#111" >9</text>
<text x="188.03" y="343.60" font-size="4.1" text-anchor="middle" font-weight="bold" fill="#111" >11</text>
<text x="197.60" y="343.60" font-size="4.1" text-anchor="middle" font-weight="bold" fill="#111" >13</text>
<text x="166.60" y="347.80" font-size="4.1" text-anchor="middle" font-weight="normal" fill="#111" >DPI</text>
<polygon points="130.90,318.64 140.00,320.67 144.78,320.67 149.57,322.13 154.35,321.55 159.13,320.67 163.92,320.67 168.70,319.47 178.27,319.04 187.83,319.04 197.40,319.04 197.40,322.31 187.83,322.31 178.27,322.31 168.70,322.75 163.92,323.95 159.13,323.95 154.35,324.82 149.57,325.41 144.78,323.95 140.00,323.95 130.90,321.91" fill="#fadde2"/>
<line x1="154.35" y1="319.91" x2="154.35" y2="326.46" stroke="#e0404a" stroke-width="0.4" />
<line x1="153.65" y1="319.91" x2="155.05" y2="319.91" stroke="#e0404a" stroke-width="0.4" />
<line x1="153.65" y1="326.46" x2="155.05" y2="326.46" stroke="#e0404a" stroke-width="0.4" />
<line x1="163.92" y1="320.13" x2="163.92" y2="324.50" stroke="#e0404a" stroke-width="0.4" />
<line x1="163.22" y1="320.13" x2="164.62" y2="320.13" stroke="#e0404a" stroke-width="0.4" />
<line x1="163.22" y1="324.50" x2="164.62" y2="324.50" stroke="#e0404a" stroke-width="0.4" />
<line x1="159.13" y1="321.29" x2="159.13" y2="324.20" stroke="#333" stroke-width="0.4" />
<line x1="158.43" y1="321.29" x2="159.83" y2="321.29" stroke="#333" stroke-width="0.4" />
<line x1="158.43" y1="324.20" x2="159.83" y2="324.20" stroke="#333" stroke-width="0.4" />
<polyline points="130.90,323.77 140.00,322.75 144.78,322.75 149.57,324.86 154.35,324.86 159.13,322.75 163.92,325.95 168.70,321.73 178.27,321.29 187.83,321.29 197.40,321.29" fill="none" stroke="#111" stroke-width="0.7" stroke-linejoin="round" />
<circle cx="130.90" cy="323.77" r="0.9" fill="#111"/>
<circle cx="140.00" cy="322.75" r="0.9" fill="#111"/>
<circle cx="144.78" cy="322.75" r="0.9" fill="#111"/>
<circle cx="149.57" cy="324.86" r="0.9" fill="#111"/>
<circle cx="154.35" cy="324.86" r="0.9" fill="#111"/>
<circle cx="159.13" cy="322.75" r="0.9" fill="#111"/>
<circle cx="163.92" cy="325.95" r="0.9" fill="#111"/>
<circle cx="168.70" cy="321.73" r="0.9" fill="#111"/>
<circle cx="178.27" cy="321.29" r="0.9" fill="#111"/>
<circle cx="187.83" cy="321.29" r="0.9" fill="#111"/>
<circle cx="197.40" cy="321.29" r="0.9" fill="#111"/>
<polyline points="130.90,320.27 140.00,322.31 144.78,322.31 149.57,323.77 154.35,323.19 159.13,322.31 163.92,322.31 168.70,321.11 178.27,320.67 187.83,320.67 197.40,320.67" fill="none" stroke="#e0202a" stroke-width="0.7" stroke-linejoin="round" />
<circle cx="130.90" cy="320.27" r="0.9" fill="#e0202a"/>
<circle cx="140.00" cy="322.31" r="0.9" fill="#e0202a"/>
<circle cx="144.78" cy="322.31" r="0.9" fill="#e0202a"/>
<circle cx="149.57" cy="323.77" r="0.9" fill="#e0202a"/>
<circle cx="154.35" cy="323.19" r="0.9" fill="#e0202a"/>
<circle cx="159.13" cy="322.31" r="0.9" fill="#e0202a"/>
<circle cx="163.92" cy="322.31" r="0.9" fill="#e0202a"/>
<circle cx="168.70" cy="321.11" r="0.9" fill="#e0202a"/>
<circle cx="178.27" cy="320.67" r="0.9" fill="#e0202a"/>
<circle cx="187.83" cy="320.67" r="0.9" fill="#e0202a"/>
<circle cx="197.40" cy="320.67" r="0.9" fill="#e0202a"/>
<line x1="214.80" y1="301.60" x2="214.80" y2="337.50" stroke="#000" stroke-width="0.7" />
<line x1="214.80" y1="337.50" x2="284.90" y2="337.50" stroke="#000" stroke-width="0.7" />
<line x1="213.60" y1="337.50" x2="214.80" y2="337.50" stroke="#000" stroke-width="0.5" />
<text x="213.30" y="338.65" font-size="3.3" text-anchor="end" font-weight="bold" fill="#111" >0</text>
<line x1="213.60" y1="330.32" x2="214.80" y2="330.32" stroke="#000" stroke-width="0.5" />
<text x="213.30" y="331.47" font-size="3.3" text-anchor="end" font-weight="bold" fill="#111" >20</text>
<line x1="213.60" y1="323.14" x2="214.80" y2="323.14" stroke="#000" stroke-width="0.5" />
<text x="213.30" y="324.29" font-size="3.3" text-anchor="end" font-weight="bold" fill="#111" >40</text>
<line x1="213.60" y1="315.96" x2="214.80" y2="315.96" stroke="#000" stroke-width="0.5" />
<text x="213.30" y="317.11" font-size="3.3" text-anchor="end" font-weight="bold" fill="#111" >60</text>
<line x1="213.60" y1="308.78" x2="214.80" y2="308.78" stroke="#000" stroke-width="0.5" />
<text x="213.30" y="309.93" font-size="3.3" text-anchor="end" font-weight="bold" fill="#111" >80</text>
<line x1="213.60" y1="301.60" x2="214.80" y2="301.60" stroke="#000" stroke-width="0.5" />
<text x="213.30" y="302.75" font-size="3.3" text-anchor="end" font-weight="bold" fill="#111" >100</text>
<line x1="218.20" y1="337.50" x2="218.20" y2="338.60" stroke="#000" stroke-width="0.5" />
<line x1="227.00" y1="337.50" x2="227.00" y2="338.60" stroke="#000" stroke-width="0.5" />
<line x1="231.59" y1="337.50" x2="231.59" y2="338.60" stroke="#000" stroke-width="0.5" />
<line x1="236.18" y1="337.50" x2="236.18" y2="338.60" stroke="#000" stroke-width="0.5" />
<line x1="240.78" y1="337.50" x2="240.78" y2="338.60" stroke="#000" stroke-width="0.5" />
<line x1="245.37" y1="337.50" x2="245.37" y2="338.60" stroke="#000" stroke-width="0.5" />
<line x1="249.96" y1="337.50" x2="249.96" y2="338.60" stroke="#000" stroke-width="0.5" />
<line x1="254.55" y1="337.50" x2="254.55" y2="338.60" stroke="#000" stroke-width="0.5" />
<line x1="263.73" y1="337.50" x2="263.73" y2="338.60" stroke="#000" stroke-width="0.5" />
<line x1="272.92" y1="337.50" x2="272.92" y2="338.60" stroke="#000" stroke-width="0.5" />
<line x1="282.10" y1="337.50" x2="282.10" y2="338.60" stroke="#000" stroke-width="0.5" />
<line x1="259.14" y1="337.50" x2="259.14" y2="338.60" stroke="#000" stroke-width="0.5" />
<line x1="268.33" y1="337.50" x2="268.33" y2="338.60" stroke="#000" stroke-width="0.5" />
<line x1="277.51" y1="337.50" x2="277.51" y2="338.60" stroke="#000" stroke-width="0.5" />
<text x="217.60" y="343.50" font-size="4.1" text-anchor="middle" font-weight="bold" fill="#111" >control</text>
<text x="227.20" y="343.50" font-size="4.1" text-anchor="middle" font-weight="bold" fill="#111" >1</text>
<text x="231.79" y="343.50" font-size="4.1" text-anchor="middle" font-weight="bold" fill="#111" >2</text>
<text x="236.38" y="343.50" font-size="4.1" text-anchor="middle" font-weight="bold" fill="#111" >3</text>
<text x="240.97" y="343.50" font-size="4.1" text-anchor="middle" font-weight="bold" fill="#111" >4</text>
<text x="245.57" y="343.50" font-size="4.1" text-anchor="middle" font-weight="bold" fill="#111" >5</text>
<text x="250.16" y="343.50" font-size="4.1" text-anchor="middle" font-weight="bold" fill="#111" >6</text>
<text x="254.75" y="343.50" font-size="4.1" text-anchor="middle" font-weight="bold" fill="#111" >7</text>
<text x="263.93" y="343.50" font-size="4.1" text-anchor="middle" font-weight="bold" fill="#111" >9</text>
<text x="273.12" y="343.50" font-size="4.1" text-anchor="middle" font-weight="bold" fill="#111" >11</text>
<text x="282.30" y="343.50" font-size="4.1" text-anchor="middle" font-weight="bold" fill="#111" >13</text>
<text x="253.90" y="347.70" font-size="4.1" text-anchor="middle" font-weight="normal" fill="#111" >DPI</text>
<line x1="240.78" y1="324.40" x2="240.78" y2="329.42" stroke="#e0404a" stroke-width="0.4" />
<line x1="240.08" y1="324.40" x2="241.47" y2="324.40" stroke="#e0404a" stroke-width="0.4" />
<line x1="240.08" y1="329.42" x2="241.47" y2="329.42" stroke="#e0404a" stroke-width="0.4" />
<line x1="236.18" y1="328.35" x2="236.18" y2="330.50" stroke="#333" stroke-width="0.4" />
<line x1="235.48" y1="328.35" x2="236.88" y2="328.35" stroke="#333" stroke-width="0.4" />
<line x1="235.48" y1="330.50" x2="236.88" y2="330.50" stroke="#333" stroke-width="0.4" />
<polyline points="218.20,331.54 227.00,333.62 231.59,332.15 236.18,329.42 240.78,332.15 245.37,332.15 249.96,332.15 254.55,332.15 263.73,333.62 272.92,332.15 282.10,332.80" fill="none" stroke="#111" stroke-width="0.7" stroke-linejoin="round" />
<circle cx="218.20" cy="331.54" r="0.9" fill="#111"/>
<circle cx="227.00" cy="333.62" r="0.9" fill="#111"/>
<circle cx="231.59" cy="332.15" r="0.9" fill="#111"/>
<circle cx="236.18" cy="329.42" r="0.9" fill="#111"/>
<circle cx="240.78" cy="332.15" r="0.9" fill="#111"/>
<circle cx="245.37" cy="332.15" r="0.9" fill="#111"/>
<circle cx="249.96" cy="332.15" r="0.9" fill="#111"/>
<circle cx="254.55" cy="332.15" r="0.9" fill="#111"/>
<circle cx="263.73" cy="333.62" r="0.9" fill="#111"/>
<circle cx="272.92" cy="332.15" r="0.9" fill="#111"/>
<circle cx="282.10" cy="332.80" r="0.9" fill="#111"/>
<polyline points="218.20,331.54 227.00,329.42 231.59,330.68 236.18,328.99 240.78,326.91 245.37,330.68 249.96,330.68 254.55,331.54 263.73,332.80 272.92,331.54 282.10,332.15" fill="none" stroke="#e0202a" stroke-width="0.7" stroke-linejoin="round" />
<circle cx="218.20" cy="331.54" r="0.9" fill="#e0202a"/>
<circle cx="227.00" cy="329.42" r="0.9" fill="#e0202a"/>
<circle cx="231.59" cy="330.68" r="0.9" fill="#e0202a"/>
<circle cx="236.18" cy="328.99" r="0.9" fill="#e0202a"/>
<circle cx="240.78" cy="326.91" r="0.9" fill="#e0202a"/>
<circle cx="245.37" cy="330.68" r="0.9" fill="#e0202a"/>
<circle cx="249.96" cy="330.68" r="0.9" fill="#e0202a"/>
<circle cx="254.55" cy="331.54" r="0.9" fill="#e0202a"/>
<circle cx="263.73" cy="332.80" r="0.9" fill="#e0202a"/>
<circle cx="272.92" cy="331.54" r="0.9" fill="#e0202a"/>
<circle cx="282.10" cy="332.15" r="0.9" fill="#e0202a"/>
<text transform="translate(28.69,371.05) rotate(-90)" font-size="4.4" font-weight="bold" text-anchor="middle" fill="#000">% live lymphocytes</text>
<line x1="40.10" y1="352.60" x2="40.10" y2="388.90" stroke="#000" stroke-width="0.7" />
<line x1="40.10" y1="388.90" x2="111.90" y2="388.90" stroke="#000" stroke-width="0.7" />
<line x1="38.90" y1="388.90" x2="40.10" y2="388.90" stroke="#000" stroke-width="0.5" />
<text x="38.60" y="390.05" font-size="3.3" text-anchor="end" font-weight="bold" fill="#111" >0</text>
<line x1="38.90" y1="381.64" x2="40.10" y2="381.64" stroke="#000" stroke-width="0.5" />
<text x="38.60" y="382.79" font-size="3.3" text-anchor="end" font-weight="bold" fill="#111" >20</text>
<line x1="38.90" y1="374.38" x2="40.10" y2="374.38" stroke="#000" stroke-width="0.5" />
<text x="38.60" y="375.53" font-size="3.3" text-anchor="end" font-weight="bold" fill="#111" >40</text>
<line x1="38.90" y1="367.12" x2="40.10" y2="367.12" stroke="#000" stroke-width="0.5" />
<text x="38.60" y="368.27" font-size="3.3" text-anchor="end" font-weight="bold" fill="#111" >60</text>
<line x1="38.90" y1="359.86" x2="40.10" y2="359.86" stroke="#000" stroke-width="0.5" />
<text x="38.60" y="361.01" font-size="3.3" text-anchor="end" font-weight="bold" fill="#111" >80</text>
<line x1="38.90" y1="352.60" x2="40.10" y2="352.60" stroke="#000" stroke-width="0.5" />
<text x="38.60" y="353.75" font-size="3.3" text-anchor="end" font-weight="bold" fill="#111" >100</text>
<line x1="43.50" y1="388.90" x2="43.50" y2="390.00" stroke="#000" stroke-width="0.5" />
<line x1="52.90" y1="388.90" x2="52.90" y2="390.00" stroke="#000" stroke-width="0.5" />
<line x1="57.57" y1="388.90" x2="57.57" y2="390.00" stroke="#000" stroke-width="0.5" />
<line x1="62.25" y1="388.90" x2="62.25" y2="390.00" stroke="#000" stroke-width="0.5" />
<line x1="66.92" y1="388.90" x2="66.92" y2="390.00" stroke="#000" stroke-width="0.5" />
<line x1="71.60" y1="388.90" x2="71.60" y2="390.00" stroke="#000" stroke-width="0.5" />
<line x1="76.28" y1="388.90" x2="76.28" y2="390.00" stroke="#000" stroke-width="0.5" />
<line x1="80.95" y1="388.90" x2="80.95" y2="390.00" stroke="#000" stroke-width="0.5" />
<line x1="90.30" y1="388.90" x2="90.30" y2="390.00" stroke="#000" stroke-width="0.5" />
<line x1="99.65" y1="388.90" x2="99.65" y2="390.00" stroke="#000" stroke-width="0.5" />
<line x1="109.00" y1="388.90" x2="109.00" y2="390.00" stroke="#000" stroke-width="0.5" />
<line x1="85.62" y1="388.90" x2="85.62" y2="390.00" stroke="#000" stroke-width="0.5" />
<line x1="94.97" y1="388.90" x2="94.97" y2="390.00" stroke="#000" stroke-width="0.5" />
<line x1="104.32" y1="388.90" x2="104.32" y2="390.00" stroke="#000" stroke-width="0.5" />
<text x="42.90" y="394.90" font-size="4.1" text-anchor="middle" font-weight="bold" fill="#111" >control</text>
<text x="53.10" y="394.90" font-size="4.1" text-anchor="middle" font-weight="bold" fill="#111" >1</text>
<text x="57.77" y="394.90" font-size="4.1" text-anchor="middle" font-weight="bold" fill="#111" >2</text>
<text x="62.45" y="394.90" font-size="4.1" text-anchor="middle" font-weight="bold" fill="#111" >3</text>
<text x="67.12" y="394.90" font-size="4.1" text-anchor="middle" font-weight="bold" fill="#111" >4</text>
<text x="71.80" y="394.90" font-size="4.1" text-anchor="middle" font-weight="bold" fill="#111" >5</text>
<text x="76.48" y="394.90" font-size="4.1" text-anchor="middle" font-weight="bold" fill="#111" >6</text>
<text x="81.15" y="394.90" font-size="4.1" text-anchor="middle" font-weight="bold" fill="#111" >7</text>
<text x="90.50" y="394.90" font-size="4.1" text-anchor="middle" font-weight="bold" fill="#111" >9</text>
<text x="99.85" y="394.90" font-size="4.1" text-anchor="middle" font-weight="bold" fill="#111" >11</text>
<text x="109.20" y="394.90" font-size="4.1" text-anchor="middle" font-weight="bold" fill="#111" >13</text>
<text x="78.00" y="398.90" font-size="4.1" text-anchor="middle" font-weight="normal" fill="#111" >DPI</text>
<polygon points="43.50,386.32 52.90,386.32 57.57,385.92 62.25,385.74 66.92,386.10 71.60,385.74 76.28,385.52 80.95,385.52 90.30,385.09 99.65,385.09 109.00,385.09 109.00,388.36 99.65,388.36 90.30,388.36 80.95,388.79 76.28,388.79 71.60,388.90 66.92,388.90 62.25,388.90 57.57,388.90 52.90,388.90 43.50,388.90" fill="#fadde2"/>
<line x1="71.60" y1="382.15" x2="71.60" y2="384.33" stroke="#333" stroke-width="0.4" />
<line x1="70.90" y1="382.15" x2="72.30" y2="382.15" stroke="#333" stroke-width="0.4" />
<line x1="70.90" y1="384.33" x2="72.30" y2="384.33" stroke="#333" stroke-width="0.4" />
<polyline points="43.50,385.71 52.90,385.27 57.57,384.69 62.25,384.91 66.92,385.71 71.60,383.24 76.28,384.69 80.95,385.09 90.30,385.71 99.65,385.71 109.00,385.92" fill="none" stroke="#111" stroke-width="0.7" stroke-linejoin="round" />
<circle cx="43.50" cy="385.71" r="0.9" fill="#111"/>
<circle cx="52.90" cy="385.27" r="0.9" fill="#111"/>
<circle cx="57.57" cy="384.69" r="0.9" fill="#111"/>
<circle cx="62.25" cy="384.91" r="0.9" fill="#111"/>
<circle cx="66.92" cy="385.71" r="0.9" fill="#111"/>
<circle cx="71.60" cy="383.24" r="0.9" fill="#111"/>
<circle cx="76.28" cy="384.69" r="0.9" fill="#111"/>
<circle cx="80.95" cy="385.09" r="0.9" fill="#111"/>
<circle cx="90.30" cy="385.71" r="0.9" fill="#111"/>
<circle cx="99.65" cy="385.71" r="0.9" fill="#111"/>
<circle cx="109.00" cy="385.92" r="0.9" fill="#111"/>
<polyline points="43.50,387.96 52.90,387.96 57.57,387.56 62.25,387.38 66.92,387.74 71.60,387.38 76.28,387.16 80.95,387.16 90.30,386.72 99.65,386.72 109.00,386.72" fill="none" stroke="#e0202a" stroke-width="0.7" stroke-linejoin="round" />
<circle cx="43.50" cy="387.96" r="0.9" fill="#e0202a"/>
<circle cx="52.90" cy="387.96" r="0.9" fill="#e0202a"/>
<circle cx="57.57" cy="387.56" r="0.9" fill="#e0202a"/>
<circle cx="62.25" cy="387.38" r="0.9" fill="#e0202a"/>
<circle cx="66.92" cy="387.74" r="0.9" fill="#e0202a"/>
<circle cx="71.60" cy="387.38" r="0.9" fill="#e0202a"/>
<circle cx="76.28" cy="387.16" r="0.9" fill="#e0202a"/>
<circle cx="80.95" cy="387.16" r="0.9" fill="#e0202a"/>
<circle cx="90.30" cy="386.72" r="0.9" fill="#e0202a"/>
<circle cx="99.65" cy="386.72" r="0.9" fill="#e0202a"/>
<circle cx="109.00" cy="386.72" r="0.9" fill="#e0202a"/>
<line x1="127.20" y1="353.50" x2="127.20" y2="388.90" stroke="#000" stroke-width="0.7" />
<line x1="127.20" y1="388.90" x2="198.90" y2="388.90" stroke="#000" stroke-width="0.7" />
<line x1="126.00" y1="388.90" x2="127.20" y2="388.90" stroke="#000" stroke-width="0.5" />
<text x="125.70" y="390.05" font-size="3.3" text-anchor="end" font-weight="bold" fill="#111" >0</text>
<line x1="126.00" y1="381.82" x2="127.20" y2="381.82" stroke="#000" stroke-width="0.5" />
<text x="125.70" y="382.97" font-size="3.3" text-anchor="end" font-weight="bold" fill="#111" >20</text>
<line x1="126.00" y1="374.74" x2="127.20" y2="374.74" stroke="#000" stroke-width="0.5" />
<text x="125.70" y="375.89" font-size="3.3" text-anchor="end" font-weight="bold" fill="#111" >40</text>
<line x1="126.00" y1="367.66" x2="127.20" y2="367.66" stroke="#000" stroke-width="0.5" />
<text x="125.70" y="368.81" font-size="3.3" text-anchor="end" font-weight="bold" fill="#111" >60</text>
<line x1="126.00" y1="360.58" x2="127.20" y2="360.58" stroke="#000" stroke-width="0.5" />
<text x="125.70" y="361.73" font-size="3.3" text-anchor="end" font-weight="bold" fill="#111" >80</text>
<line x1="126.00" y1="353.50" x2="127.20" y2="353.50" stroke="#000" stroke-width="0.5" />
<text x="125.70" y="354.65" font-size="3.3" text-anchor="end" font-weight="bold" fill="#111" >100</text>
<line x1="130.60" y1="388.90" x2="130.60" y2="390.00" stroke="#000" stroke-width="0.5" />
<line x1="140.00" y1="388.90" x2="140.00" y2="390.00" stroke="#000" stroke-width="0.5" />
<line x1="144.66" y1="388.90" x2="144.66" y2="390.00" stroke="#000" stroke-width="0.5" />
<line x1="149.32" y1="388.90" x2="149.32" y2="390.00" stroke="#000" stroke-width="0.5" />
<line x1="153.97" y1="388.90" x2="153.97" y2="390.00" stroke="#000" stroke-width="0.5" />
<line x1="158.63" y1="388.90" x2="158.63" y2="390.00" stroke="#000" stroke-width="0.5" />
<line x1="163.29" y1="388.90" x2="163.29" y2="390.00" stroke="#000" stroke-width="0.5" />
<line x1="167.95" y1="388.90" x2="167.95" y2="390.00" stroke="#000" stroke-width="0.5" />
<line x1="177.27" y1="388.90" x2="177.27" y2="390.00" stroke="#000" stroke-width="0.5" />
<line x1="186.58" y1="388.90" x2="186.58" y2="390.00" stroke="#000" stroke-width="0.5" />
<line x1="195.90" y1="388.90" x2="195.90" y2="390.00" stroke="#000" stroke-width="0.5" />
<line x1="172.61" y1="388.90" x2="172.61" y2="390.00" stroke="#000" stroke-width="0.5" />
<line x1="181.93" y1="388.90" x2="181.93" y2="390.00" stroke="#000" stroke-width="0.5" />
<line x1="191.24" y1="388.90" x2="191.24" y2="390.00" stroke="#000" stroke-width="0.5" />
<text x="130.00" y="394.90" font-size="4.1" text-anchor="middle" font-weight="bold" fill="#111" >control</text>
<text x="140.20" y="394.90" font-size="4.1" text-anchor="middle" font-weight="bold" fill="#111" >1</text>
<text x="144.86" y="394.90" font-size="4.1" text-anchor="middle" font-weight="bold" fill="#111" >2</text>
<text x="149.52" y="394.90" font-size="4.1" text-anchor="middle" font-weight="bold" fill="#111" >3</text>
<text x="154.17" y="394.90" font-size="4.1" text-anchor="middle" font-weight="bold" fill="#111" >4</text>
<text x="158.83" y="394.90" font-size="4.1" text-anchor="middle" font-weight="bold" fill="#111" >5</text>
<text x="163.49" y="394.90" font-size="4.1" text-anchor="middle" font-weight="bold" fill="#111" >6</text>
<text x="168.15" y="394.90" font-size="4.1" text-anchor="middle" font-weight="bold" fill="#111" >7</text>
<text x="177.47" y="394.90" font-size="4.1" text-anchor="middle" font-weight="bold" fill="#111" >9</text>
<text x="186.78" y="394.90" font-size="4.1" text-anchor="middle" font-weight="bold" fill="#111" >11</text>
<text x="196.10" y="394.90" font-size="4.1" text-anchor="middle" font-weight="bold" fill="#111" >13</text>
<text x="166.30" y="398.90" font-size="4.1" text-anchor="middle" font-weight="normal" fill="#111" >DPI</text>
<polygon points="130.60,382.78 140.00,383.20 144.66,383.20 149.32,383.77 153.97,383.77 158.63,383.41 163.29,382.78 167.95,381.18 177.27,382.35 186.58,381.18 195.90,381.78 195.90,384.97 186.58,384.37 177.27,385.54 167.95,384.37 163.29,385.96 158.63,386.60 153.97,386.95 149.32,386.95 144.66,386.39 140.00,386.39 130.60,385.96" fill="#fadde2"/>
<line x1="167.95" y1="377.96" x2="167.95" y2="380.79" stroke="#333" stroke-width="0.4" />
<line x1="167.25" y1="377.96" x2="168.65" y2="377.96" stroke="#333" stroke-width="0.4" />
<line x1="167.25" y1="380.79" x2="168.65" y2="380.79" stroke="#333" stroke-width="0.4" />
<polyline points="130.60,381.82 140.00,382.39 144.66,380.76 149.32,383.38 153.97,382.78 158.63,382.78 163.29,384.37 167.95,379.38 177.27,383.38 186.58,380.76 195.90,382.78" fill="none" stroke="#111" stroke-width="0.7" stroke-linejoin="round" />
<circle cx="130.60" cy="381.82" r="0.9" fill="#111"/>
<circle cx="140.00" cy="382.39" r="0.9" fill="#111"/>
<circle cx="144.66" cy="380.76" r="0.9" fill="#111"/>
<circle cx="149.32" cy="383.38" r="0.9" fill="#111"/>
<circle cx="153.97" cy="382.78" r="0.9" fill="#111"/>
<circle cx="158.63" cy="382.78" r="0.9" fill="#111"/>
<circle cx="163.29" cy="384.37" r="0.9" fill="#111"/>
<circle cx="167.95" cy="379.38" r="0.9" fill="#111"/>
<circle cx="177.27" cy="383.38" r="0.9" fill="#111"/>
<circle cx="186.58" cy="380.76" r="0.9" fill="#111"/>
<circle cx="195.90" cy="382.78" r="0.9" fill="#111"/>
<polyline points="130.60,384.37 140.00,384.79 144.66,384.79 149.32,385.36 153.97,385.36 158.63,385.01 163.29,384.37 167.95,382.78 177.27,383.94 186.58,382.78 195.90,383.38" fill="none" stroke="#e0202a" stroke-width="0.7" stroke-linejoin="round" />
<circle cx="130.60" cy="384.37" r="0.9" fill="#e0202a"/>
<circle cx="140.00" cy="384.79" r="0.9" fill="#e0202a"/>
<circle cx="144.66" cy="384.79" r="0.9" fill="#e0202a"/>
<circle cx="149.32" cy="385.36" r="0.9" fill="#e0202a"/>
<circle cx="153.97" cy="385.36" r="0.9" fill="#e0202a"/>
<circle cx="158.63" cy="385.01" r="0.9" fill="#e0202a"/>
<circle cx="163.29" cy="384.37" r="0.9" fill="#e0202a"/>
<circle cx="167.95" cy="382.78" r="0.9" fill="#e0202a"/>
<circle cx="177.27" cy="383.94" r="0.9" fill="#e0202a"/>
<circle cx="186.58" cy="382.78" r="0.9" fill="#e0202a"/>
<circle cx="195.90" cy="383.38" r="0.9" fill="#e0202a"/>
<line x1="214.20" y1="353.30" x2="214.20" y2="388.60" stroke="#000" stroke-width="0.7" />
<line x1="214.20" y1="388.60" x2="284.90" y2="388.60" stroke="#000" stroke-width="0.7" />
<line x1="213.00" y1="388.60" x2="214.20" y2="388.60" stroke="#000" stroke-width="0.5" />
<text x="212.70" y="389.75" font-size="3.3" text-anchor="end" font-weight="bold" fill="#111" >0</text>
<line x1="213.00" y1="381.54" x2="214.20" y2="381.54" stroke="#000" stroke-width="0.5" />
<text x="212.70" y="382.69" font-size="3.3" text-anchor="end" font-weight="bold" fill="#111" >20</text>
<line x1="213.00" y1="374.48" x2="214.20" y2="374.48" stroke="#000" stroke-width="0.5" />
<text x="212.70" y="375.63" font-size="3.3" text-anchor="end" font-weight="bold" fill="#111" >40</text>
<line x1="213.00" y1="367.42" x2="214.20" y2="367.42" stroke="#000" stroke-width="0.5" />
<text x="212.70" y="368.57" font-size="3.3" text-anchor="end" font-weight="bold" fill="#111" >60</text>
<line x1="213.00" y1="360.36" x2="214.20" y2="360.36" stroke="#000" stroke-width="0.5" />
<text x="212.70" y="361.51" font-size="3.3" text-anchor="end" font-weight="bold" fill="#111" >80</text>
<line x1="213.00" y1="353.30" x2="214.20" y2="353.30" stroke="#000" stroke-width="0.5" />
<text x="212.70" y="354.45" font-size="3.3" text-anchor="end" font-weight="bold" fill="#111" >100</text>
<line x1="217.60" y1="388.60" x2="217.60" y2="389.70" stroke="#000" stroke-width="0.5" />
<line x1="227.00" y1="388.60" x2="227.00" y2="389.70" stroke="#000" stroke-width="0.5" />
<line x1="231.56" y1="388.60" x2="231.56" y2="389.70" stroke="#000" stroke-width="0.5" />
<line x1="236.12" y1="388.60" x2="236.12" y2="389.70" stroke="#000" stroke-width="0.5" />
<line x1="240.68" y1="388.60" x2="240.68" y2="389.70" stroke="#000" stroke-width="0.5" />
<line x1="245.23" y1="388.60" x2="245.23" y2="389.70" stroke="#000" stroke-width="0.5" />
<line x1="249.79" y1="388.60" x2="249.79" y2="389.70" stroke="#000" stroke-width="0.5" />
<line x1="254.35" y1="388.60" x2="254.35" y2="389.70" stroke="#000" stroke-width="0.5" />
<line x1="263.47" y1="388.60" x2="263.47" y2="389.70" stroke="#000" stroke-width="0.5" />
<line x1="272.58" y1="388.60" x2="272.58" y2="389.70" stroke="#000" stroke-width="0.5" />
<line x1="281.70" y1="388.60" x2="281.70" y2="389.70" stroke="#000" stroke-width="0.5" />
<line x1="258.91" y1="388.60" x2="258.91" y2="389.70" stroke="#000" stroke-width="0.5" />
<line x1="268.02" y1="388.60" x2="268.02" y2="389.70" stroke="#000" stroke-width="0.5" />
<line x1="277.14" y1="388.60" x2="277.14" y2="389.70" stroke="#000" stroke-width="0.5" />
<text x="217.00" y="394.60" font-size="4.1" text-anchor="middle" font-weight="bold" fill="#111" >control</text>
<text x="227.20" y="394.60" font-size="4.1" text-anchor="middle" font-weight="bold" fill="#111" >1</text>
<text x="231.76" y="394.60" font-size="4.1" text-anchor="middle" font-weight="bold" fill="#111" >2</text>
<text x="236.32" y="394.60" font-size="4.1" text-anchor="middle" font-weight="bold" fill="#111" >3</text>
<text x="240.88" y="394.60" font-size="4.1" text-anchor="middle" font-weight="bold" fill="#111" >4</text>
<text x="245.43" y="394.60" font-size="4.1" text-anchor="middle" font-weight="bold" fill="#111" >5</text>
<text x="249.99" y="394.60" font-size="4.1" text-anchor="middle" font-weight="bold" fill="#111" >6</text>
<text x="254.55" y="394.60" font-size="4.1" text-anchor="middle" font-weight="bold" fill="#111" >7</text>
<text x="263.67" y="394.60" font-size="4.1" text-anchor="middle" font-weight="bold" fill="#111" >9</text>
<text x="272.78" y="394.60" font-size="4.1" text-anchor="middle" font-weight="bold" fill="#111" >11</text>
<text x="281.90" y="394.60" font-size="4.1" text-anchor="middle" font-weight="bold" fill="#111" >13</text>
<text x="253.30" y="398.60" font-size="4.1" text-anchor="middle" font-weight="normal" fill="#111" >DPI</text>
<line x1="227.00" y1="361.88" x2="227.00" y2="364.70" stroke="#e0404a" stroke-width="0.4" />
<line x1="226.30" y1="361.88" x2="227.70" y2="361.88" stroke="#e0404a" stroke-width="0.4" />
<line x1="226.30" y1="364.70" x2="227.70" y2="364.70" stroke="#e0404a" stroke-width="0.4" />
<line x1="281.70" y1="375.54" x2="281.70" y2="379.78" stroke="#333" stroke-width="0.4" />
<line x1="281.00" y1="375.54" x2="282.40" y2="375.54" stroke="#333" stroke-width="0.4" />
<line x1="281.00" y1="379.78" x2="282.40" y2="379.78" stroke="#333" stroke-width="0.4" />
<line x1="281.70" y1="369.08" x2="281.70" y2="371.90" stroke="#e0404a" stroke-width="0.4" />
<line x1="281.00" y1="369.08" x2="282.40" y2="369.08" stroke="#e0404a" stroke-width="0.4" />
<line x1="281.00" y1="371.90" x2="282.40" y2="371.90" stroke="#e0404a" stroke-width="0.4" />
<polyline points="217.60,374.59 227.00,373.14 231.56,377.66 236.12,372.54 240.68,374.59 245.23,377.66 249.79,371.09 254.35,378.89 263.47,375.61 272.58,377.30 281.70,377.66" fill="none" stroke="#111" stroke-width="0.7" stroke-linejoin="round" />
<circle cx="217.60" cy="374.59" r="0.9" fill="#111"/>
<circle cx="227.00" cy="373.14" r="0.9" fill="#111"/>
<circle cx="231.56" cy="377.66" r="0.9" fill="#111"/>
<circle cx="236.12" cy="372.54" r="0.9" fill="#111"/>
<circle cx="240.68" cy="374.59" r="0.9" fill="#111"/>
<circle cx="245.23" cy="377.66" r="0.9" fill="#111"/>
<circle cx="249.79" cy="371.09" r="0.9" fill="#111"/>
<circle cx="254.35" cy="378.89" r="0.9" fill="#111"/>
<circle cx="263.47" cy="375.61" r="0.9" fill="#111"/>
<circle cx="272.58" cy="377.30" r="0.9" fill="#111"/>
<circle cx="281.70" cy="377.66" r="0.9" fill="#111"/>
<polyline points="217.60,370.49 227.00,363.29 231.56,365.34 236.12,367.42 240.68,368.62 245.23,368.62 249.79,371.09 254.35,371.09 263.47,371.73 272.58,373.56 281.70,370.49" fill="none" stroke="#e0202a" stroke-width="0.7" stroke-linejoin="round" />
<circle cx="217.60" cy="370.49" r="0.9" fill="#e0202a"/>
<circle cx="227.00" cy="363.29" r="0.9" fill="#e0202a"/>
<circle cx="231.56" cy="365.34" r="0.9" fill="#e0202a"/>
<circle cx="236.12" cy="367.42" r="0.9" fill="#e0202a"/>
<circle cx="240.68" cy="368.62" r="0.9" fill="#e0202a"/>
<circle cx="245.23" cy="368.62" r="0.9" fill="#e0202a"/>
<circle cx="249.79" cy="371.09" r="0.9" fill="#e0202a"/>
<circle cx="254.35" cy="371.09" r="0.9" fill="#e0202a"/>
<circle cx="263.47" cy="371.73" r="0.9" fill="#e0202a"/>
<circle cx="272.58" cy="373.56" r="0.9" fill="#e0202a"/>
<circle cx="281.70" cy="370.49" r="0.9" fill="#e0202a"/>
</svg>
</body></html>
